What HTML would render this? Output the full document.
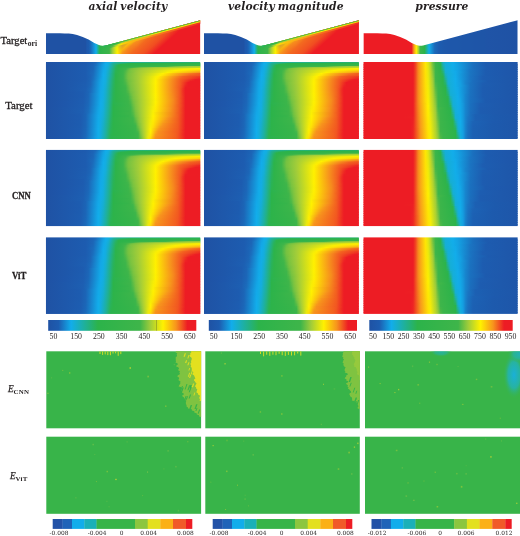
<!DOCTYPE html>
<html><head><meta charset="utf-8"><title>figure</title>
<style>
html,body{margin:0;padding:0;background:#fff}
body{width:520px;height:536px;position:relative;overflow:hidden;font-family:"Liberation Serif",serif;color:#231f20}
.t{position:absolute;white-space:nowrap;line-height:1}
.h{font-family:"DejaVu Serif","Liberation Serif",serif;font-style:italic;font-weight:bold;font-size:10.75px;letter-spacing:.1px;line-height:16px;word-spacing:-1px}
.r{font-size:10.4px;line-height:12px;-webkit-text-stroke:.3px #231f20;transform-origin:0 0}
.b{font-weight:bold;font-size:10px;-webkit-text-stroke:.3px #231f20}
.r i{font-weight:normal;font-size:11px}
.sb{font-size:7.6px;font-weight:bold;-webkit-text-stroke:0;position:relative;top:2px;left:.5px}
.sb2{font-size:6.6px;font-weight:bold;-webkit-text-stroke:0;position:relative;top:2.2px}
.e{-webkit-text-stroke:.25px #231f20}
.s2{font-weight:bold;letter-spacing:.25px}
.c{font-size:7.8px;line-height:12px}
.d{font-family:'DejaVu Serif',serif;font-size:5.9px;line-height:8px}
</style></head><body>
<svg width="520" height="536" viewBox="0 0 520 536" style="position:absolute;left:0;top:0"><defs><linearGradient id="fv0"><stop offset="0" stop-color="#1f52a4"/><stop offset="0.129" stop-color="#1e57aa"/><stop offset="0.2581" stop-color="#1d5baf"/><stop offset="0.3226" stop-color="#1b67b8"/><stop offset="0.3871" stop-color="#13a6e6"/><stop offset="0.4032" stop-color="#13ade5"/><stop offset="0.4194" stop-color="#15aeda"/><stop offset="0.4516" stop-color="#1eb09e"/><stop offset="0.4677" stop-color="#20b095"/><stop offset="0.5968" stop-color="#22b18a"/><stop offset="0.7258" stop-color="#23b180"/><stop offset="0.8548" stop-color="#25b175"/><stop offset="0.9839" stop-color="#27b26a"/><stop offset="1" stop-color="#27b269"/></linearGradient><linearGradient id="fv1"><stop offset="0" stop-color="#1f52a4"/><stop offset="0.129" stop-color="#1e57aa"/><stop offset="0.2581" stop-color="#1d5baf"/><stop offset="0.3065" stop-color="#1c64b6"/><stop offset="0.3226" stop-color="#1b6cbc"/><stop offset="0.3871" stop-color="#12adea"/><stop offset="0.4032" stop-color="#14addf"/><stop offset="0.4194" stop-color="#19afc0"/><stop offset="0.4355" stop-color="#1fb099"/><stop offset="0.5323" stop-color="#2bb350"/><stop offset="0.5484" stop-color="#2cb34a"/><stop offset="0.6774" stop-color="#2db34a"/><stop offset="0.8065" stop-color="#2eb34a"/><stop offset="0.9355" stop-color="#2fb34a"/><stop offset="1" stop-color="#30b34a"/></linearGradient><linearGradient id="fv2"><stop offset="0" stop-color="#1f52a4"/><stop offset="0.129" stop-color="#1e57aa"/><stop offset="0.2581" stop-color="#1d5baf"/><stop offset="0.3065" stop-color="#1c64b6"/><stop offset="0.3226" stop-color="#1b6ebd"/><stop offset="0.371" stop-color="#14a0e2"/><stop offset="0.3871" stop-color="#12ade9"/><stop offset="0.4032" stop-color="#14adde"/><stop offset="0.4355" stop-color="#20b092"/><stop offset="0.4677" stop-color="#29b25f"/><stop offset="0.4839" stop-color="#2cb34a"/><stop offset="0.6129" stop-color="#2eb34a"/><stop offset="0.7419" stop-color="#30b34a"/><stop offset="0.871" stop-color="#32b44a"/><stop offset="1" stop-color="#34b44a"/></linearGradient><linearGradient id="fv3"><stop offset="0" stop-color="#1f52a4"/><stop offset="0.129" stop-color="#1e57aa"/><stop offset="0.2581" stop-color="#1d5caf"/><stop offset="0.3065" stop-color="#1c65b7"/><stop offset="0.3226" stop-color="#1a70bf"/><stop offset="0.371" stop-color="#14a2e3"/><stop offset="0.3871" stop-color="#13ade7"/><stop offset="0.4032" stop-color="#14aedc"/><stop offset="0.4355" stop-color="#21b18c"/><stop offset="0.4677" stop-color="#2cb34a"/><stop offset="0.5968" stop-color="#30b34a"/><stop offset="0.7258" stop-color="#34b44a"/><stop offset="0.8548" stop-color="#37b44a"/><stop offset="0.9839" stop-color="#38b44a"/><stop offset="1" stop-color="#39b44a"/></linearGradient><linearGradient id="fv4"><stop offset="0" stop-color="#1f52a4"/><stop offset="0.129" stop-color="#1e57aa"/><stop offset="0.2581" stop-color="#1d5cb0"/><stop offset="0.3065" stop-color="#1c66b7"/><stop offset="0.371" stop-color="#13a3e4"/><stop offset="0.3871" stop-color="#13ade6"/><stop offset="0.4032" stop-color="#15aed6"/><stop offset="0.4516" stop-color="#28b263"/><stop offset="0.4677" stop-color="#2cb34a"/><stop offset="0.5968" stop-color="#37b44a"/><stop offset="0.7258" stop-color="#3cb54a"/><stop offset="0.7742" stop-color="#40b64a"/><stop offset="0.8387" stop-color="#77c241"/><stop offset="0.9194" stop-color="#9ecc3a"/><stop offset="1" stop-color="#a7cf36"/></linearGradient><linearGradient id="fv5"><stop offset="0" stop-color="#1f52a4"/><stop offset="0.129" stop-color="#1e57aa"/><stop offset="0.2581" stop-color="#1d5cb0"/><stop offset="0.3065" stop-color="#1c66b7"/><stop offset="0.371" stop-color="#13a5e5"/><stop offset="0.3871" stop-color="#13ade5"/><stop offset="0.4032" stop-color="#16aed3"/><stop offset="0.4516" stop-color="#29b25e"/><stop offset="0.4677" stop-color="#2db34a"/><stop offset="0.5484" stop-color="#3cb54a"/><stop offset="0.5645" stop-color="#44b649"/><stop offset="0.6129" stop-color="#72c141"/><stop offset="0.7097" stop-color="#a0cc3a"/><stop offset="0.8387" stop-color="#aed231"/><stop offset="0.9677" stop-color="#bdd729"/><stop offset="1" stop-color="#c0d926"/></linearGradient><linearGradient id="fv6"><stop offset="0" stop-color="#1f52a4"/><stop offset="0.129" stop-color="#1e57aa"/><stop offset="0.2581" stop-color="#1d5cb0"/><stop offset="0.3065" stop-color="#1c66b7"/><stop offset="0.371" stop-color="#13a6e6"/><stop offset="0.3871" stop-color="#13ade5"/><stop offset="0.4032" stop-color="#16aed0"/><stop offset="0.4516" stop-color="#2ab259"/><stop offset="0.4677" stop-color="#2fb34a"/><stop offset="0.5161" stop-color="#3cb54a"/><stop offset="0.5323" stop-color="#4eb947"/><stop offset="0.5484" stop-color="#68bf43"/><stop offset="0.5645" stop-color="#7ac340"/><stop offset="0.629" stop-color="#9ecb3a"/><stop offset="0.7581" stop-color="#c2d926"/><stop offset="0.8871" stop-color="#e4e710"/><stop offset="0.9839" stop-color="#fef100"/><stop offset="1" stop-color="#fff000"/></linearGradient><linearGradient id="fv7"><stop offset="0" stop-color="#1f52a4"/><stop offset="0.129" stop-color="#1e57aa"/><stop offset="0.2581" stop-color="#1d5cb0"/><stop offset="0.3065" stop-color="#1c67b8"/><stop offset="0.371" stop-color="#13a7e7"/><stop offset="0.3871" stop-color="#13ade4"/><stop offset="0.4032" stop-color="#17aecd"/><stop offset="0.4516" stop-color="#2ab357"/><stop offset="0.4677" stop-color="#2fb34a"/><stop offset="0.5161" stop-color="#40b54a"/><stop offset="0.5484" stop-color="#76c241"/><stop offset="0.629" stop-color="#a4cd38"/><stop offset="0.7581" stop-color="#cfde1d"/><stop offset="0.8871" stop-color="#faef03"/><stop offset="1" stop-color="#fee504"/></linearGradient><linearGradient id="fv8"><stop offset="0" stop-color="#1f52a4"/><stop offset="0.129" stop-color="#1e57aa"/><stop offset="0.2581" stop-color="#1d5cb0"/><stop offset="0.3065" stop-color="#1b68b9"/><stop offset="0.371" stop-color="#13a8e8"/><stop offset="0.3871" stop-color="#13ade3"/><stop offset="0.4032" stop-color="#17aeca"/><stop offset="0.4516" stop-color="#2ab354"/><stop offset="0.4677" stop-color="#30b34a"/><stop offset="0.5" stop-color="#3bb54a"/><stop offset="0.5161" stop-color="#4bb848"/><stop offset="0.5323" stop-color="#69bf43"/><stop offset="0.5484" stop-color="#7cc440"/><stop offset="0.6129" stop-color="#a4cd38"/><stop offset="0.7419" stop-color="#d9e217"/><stop offset="0.8387" stop-color="#fff000"/><stop offset="0.9677" stop-color="#fcd309"/><stop offset="1" stop-color="#fccc0b"/></linearGradient><linearGradient id="fv9"><stop offset="0" stop-color="#1f52a4"/><stop offset="0.129" stop-color="#1e57aa"/><stop offset="0.2581" stop-color="#1d5cb0"/><stop offset="0.3065" stop-color="#1b6aba"/><stop offset="0.371" stop-color="#12aae9"/><stop offset="0.3871" stop-color="#13ade2"/><stop offset="0.4032" stop-color="#18aec6"/><stop offset="0.4516" stop-color="#2bb350"/><stop offset="0.4677" stop-color="#31b44a"/><stop offset="0.5" stop-color="#3cb54a"/><stop offset="0.5161" stop-color="#52ba47"/><stop offset="0.5323" stop-color="#70c142"/><stop offset="0.5968" stop-color="#9fcc3a"/><stop offset="0.7258" stop-color="#dee414"/><stop offset="0.7903" stop-color="#fdf001"/><stop offset="0.9194" stop-color="#fab712"/><stop offset="1" stop-color="#f7931d"/></linearGradient><linearGradient id="fv10"><stop offset="0" stop-color="#1f52a4"/><stop offset="0.129" stop-color="#1e57aa"/><stop offset="0.2581" stop-color="#1d5cb0"/><stop offset="0.3065" stop-color="#1b6bbb"/><stop offset="0.371" stop-color="#12abea"/><stop offset="0.3871" stop-color="#14ade1"/><stop offset="0.4032" stop-color="#18aec3"/><stop offset="0.4516" stop-color="#2bb34d"/><stop offset="0.5" stop-color="#3db54a"/><stop offset="0.5161" stop-color="#55bb46"/><stop offset="0.5323" stop-color="#75c241"/><stop offset="0.5968" stop-color="#a0cc3a"/><stop offset="0.7258" stop-color="#ecea0c"/><stop offset="0.7581" stop-color="#fff100"/><stop offset="0.8871" stop-color="#f7921d"/><stop offset="1" stop-color="#f25a20"/></linearGradient><linearGradient id="fv11"><stop offset="0" stop-color="#1f52a4"/><stop offset="0.129" stop-color="#1e57aa"/><stop offset="0.2581" stop-color="#1d5cb0"/><stop offset="0.2903" stop-color="#1c64b6"/><stop offset="0.3065" stop-color="#1b6cbc"/><stop offset="0.371" stop-color="#12adeb"/><stop offset="0.3871" stop-color="#14ade0"/><stop offset="0.4032" stop-color="#19afc0"/><stop offset="0.4516" stop-color="#2cb34a"/><stop offset="0.5" stop-color="#3db54a"/><stop offset="0.5323" stop-color="#76c241"/><stop offset="0.5968" stop-color="#a1cd39"/><stop offset="0.7258" stop-color="#f7ee05"/><stop offset="0.7419" stop-color="#ffee01"/><stop offset="0.8548" stop-color="#f7941d"/><stop offset="0.9355" stop-color="#f25c20"/><stop offset="1" stop-color="#f14f21"/></linearGradient><linearGradient id="fv12"><stop offset="0" stop-color="#1f52a4"/><stop offset="0.129" stop-color="#1e57aa"/><stop offset="0.2581" stop-color="#1d5cb0"/><stop offset="0.2903" stop-color="#1c64b6"/><stop offset="0.3065" stop-color="#1b6ebd"/><stop offset="0.371" stop-color="#12adea"/><stop offset="0.3871" stop-color="#14addf"/><stop offset="0.4032" stop-color="#19afbd"/><stop offset="0.4516" stop-color="#2cb34a"/><stop offset="0.5" stop-color="#3db54a"/><stop offset="0.5323" stop-color="#76c241"/><stop offset="0.5968" stop-color="#a2cd39"/><stop offset="0.7097" stop-color="#f6ed06"/><stop offset="0.7258" stop-color="#ffee01"/><stop offset="0.8387" stop-color="#f68d1d"/><stop offset="0.8871" stop-color="#f36120"/><stop offset="1" stop-color="#ef3623"/></linearGradient><linearGradient id="fv13"><stop offset="0" stop-color="#1f52a4"/><stop offset="0.129" stop-color="#1e57aa"/><stop offset="0.2581" stop-color="#1d5cb0"/><stop offset="0.2903" stop-color="#1c65b6"/><stop offset="0.3065" stop-color="#1a6fbe"/><stop offset="0.3548" stop-color="#14a0e2"/><stop offset="0.371" stop-color="#12ade9"/><stop offset="0.3871" stop-color="#14adde"/><stop offset="0.4355" stop-color="#27b26b"/><stop offset="0.4516" stop-color="#2db34a"/><stop offset="0.5" stop-color="#3db54a"/><stop offset="0.5323" stop-color="#76c241"/><stop offset="0.5968" stop-color="#a2cd39"/><stop offset="0.7097" stop-color="#fbf002"/><stop offset="0.7258" stop-color="#fee703"/><stop offset="0.8226" stop-color="#f68d1d"/><stop offset="0.871" stop-color="#f36120"/><stop offset="1" stop-color="#ed2024"/></linearGradient><linearGradient id="fv14"><stop offset="0" stop-color="#1f52a4"/><stop offset="0.129" stop-color="#1e57aa"/><stop offset="0.2581" stop-color="#1d5cb0"/><stop offset="0.2903" stop-color="#1c65b6"/><stop offset="0.3065" stop-color="#1a70bf"/><stop offset="0.3548" stop-color="#14a2e3"/><stop offset="0.371" stop-color="#13ade8"/><stop offset="0.3871" stop-color="#14adde"/><stop offset="0.4355" stop-color="#27b268"/><stop offset="0.4516" stop-color="#2db34a"/><stop offset="0.5" stop-color="#3db54a"/><stop offset="0.5161" stop-color="#54ba46"/><stop offset="0.5323" stop-color="#73c141"/><stop offset="0.5968" stop-color="#a2cd39"/><stop offset="0.7097" stop-color="#fdf001"/><stop offset="0.8226" stop-color="#f6881e"/><stop offset="0.871" stop-color="#f25c20"/><stop offset="0.9677" stop-color="#ed1c24"/><stop offset="1" stop-color="#ed1c24"/></linearGradient><linearGradient id="fv15"><stop offset="0" stop-color="#1f52a4"/><stop offset="0.129" stop-color="#1e57aa"/><stop offset="0.2581" stop-color="#1d5db0"/><stop offset="0.2903" stop-color="#1c65b7"/><stop offset="0.3548" stop-color="#13a4e4"/><stop offset="0.371" stop-color="#13ade7"/><stop offset="0.3871" stop-color="#14aedd"/><stop offset="0.4355" stop-color="#27b266"/><stop offset="0.4516" stop-color="#2db34a"/><stop offset="0.5" stop-color="#3cb54a"/><stop offset="0.5161" stop-color="#50b947"/><stop offset="0.5323" stop-color="#6fc042"/><stop offset="0.5968" stop-color="#a2cd39"/><stop offset="0.7097" stop-color="#fef100"/><stop offset="0.8065" stop-color="#f7951d"/><stop offset="0.9355" stop-color="#ed1d24"/><stop offset="1" stop-color="#ed1c24"/></linearGradient><linearGradient id="fv16"><stop offset="0" stop-color="#1f52a4"/><stop offset="0.129" stop-color="#1e57aa"/><stop offset="0.2581" stop-color="#1d5db1"/><stop offset="0.2903" stop-color="#1c66b7"/><stop offset="0.3548" stop-color="#13a5e5"/><stop offset="0.371" stop-color="#13ade6"/><stop offset="0.3871" stop-color="#15aedb"/><stop offset="0.4355" stop-color="#28b265"/><stop offset="0.4516" stop-color="#2db34a"/><stop offset="0.5" stop-color="#3bb54a"/><stop offset="0.5161" stop-color="#4cb848"/><stop offset="0.5323" stop-color="#6bc043"/><stop offset="0.5484" stop-color="#7ec440"/><stop offset="0.5968" stop-color="#a2cd39"/><stop offset="0.7097" stop-color="#fff100"/><stop offset="0.8065" stop-color="#f7941d"/><stop offset="0.871" stop-color="#f25820"/><stop offset="0.9194" stop-color="#ed1c24"/><stop offset="1" stop-color="#ed1c24"/></linearGradient><linearGradient id="fv17"><stop offset="0" stop-color="#1f52a4"/><stop offset="0.129" stop-color="#1e57aa"/><stop offset="0.2581" stop-color="#1d5eb1"/><stop offset="0.2903" stop-color="#1c66b7"/><stop offset="0.3548" stop-color="#13a6e6"/><stop offset="0.371" stop-color="#13ade6"/><stop offset="0.3871" stop-color="#15aed8"/><stop offset="0.4355" stop-color="#28b263"/><stop offset="0.4516" stop-color="#2eb34a"/><stop offset="0.5" stop-color="#3bb54a"/><stop offset="0.5161" stop-color="#47b749"/><stop offset="0.5323" stop-color="#67bf43"/><stop offset="0.5484" stop-color="#7cc440"/><stop offset="0.5968" stop-color="#a1cc39"/><stop offset="0.7097" stop-color="#fff100"/><stop offset="0.8065" stop-color="#f7931d"/><stop offset="0.871" stop-color="#f25721"/><stop offset="0.9032" stop-color="#ee2a23"/><stop offset="0.9194" stop-color="#ed1c24"/><stop offset="1" stop-color="#ed1c24"/></linearGradient><linearGradient id="fv18"><stop offset="0" stop-color="#1f52a4"/><stop offset="0.129" stop-color="#1e57aa"/><stop offset="0.2581" stop-color="#1d5eb1"/><stop offset="0.2903" stop-color="#1c67b8"/><stop offset="0.3548" stop-color="#13a6e6"/><stop offset="0.371" stop-color="#13ade5"/><stop offset="0.3871" stop-color="#15aed6"/><stop offset="0.4355" stop-color="#28b261"/><stop offset="0.4516" stop-color="#2eb34a"/><stop offset="0.5" stop-color="#3ab54a"/><stop offset="0.5161" stop-color="#42b649"/><stop offset="0.5323" stop-color="#62bd44"/><stop offset="0.5484" stop-color="#7bc340"/><stop offset="0.5968" stop-color="#a0cc3a"/><stop offset="0.7097" stop-color="#fff000"/><stop offset="0.8065" stop-color="#f7931d"/><stop offset="0.871" stop-color="#f25521"/><stop offset="0.9032" stop-color="#ee2424"/><stop offset="0.9194" stop-color="#ed1c24"/><stop offset="1" stop-color="#ed1c24"/></linearGradient><linearGradient id="fv19"><stop offset="0" stop-color="#1f52a4"/><stop offset="0.129" stop-color="#1e57aa"/><stop offset="0.2581" stop-color="#1d5eb2"/><stop offset="0.2903" stop-color="#1b69b9"/><stop offset="0.3548" stop-color="#13a7e7"/><stop offset="0.371" stop-color="#13ade5"/><stop offset="0.3871" stop-color="#16aed3"/><stop offset="0.4355" stop-color="#29b25f"/><stop offset="0.4516" stop-color="#2eb34a"/><stop offset="0.5161" stop-color="#3eb54a"/><stop offset="0.5484" stop-color="#79c340"/><stop offset="0.5968" stop-color="#9fcc3a"/><stop offset="0.7097" stop-color="#fff000"/><stop offset="0.8065" stop-color="#f7931d"/><stop offset="0.871" stop-color="#f25321"/><stop offset="0.9032" stop-color="#ed1d24"/><stop offset="1" stop-color="#ed1c24"/></linearGradient><linearGradient id="fv20"><stop offset="0" stop-color="#1f52a4"/><stop offset="0.129" stop-color="#1e57aa"/><stop offset="0.2581" stop-color="#1d5fb2"/><stop offset="0.2903" stop-color="#1b6bbb"/><stop offset="0.3548" stop-color="#13a8e7"/><stop offset="0.371" stop-color="#13ade4"/><stop offset="0.3871" stop-color="#16aed0"/><stop offset="0.4355" stop-color="#29b25d"/><stop offset="0.4516" stop-color="#2eb34a"/><stop offset="0.5161" stop-color="#3db54a"/><stop offset="0.5484" stop-color="#77c241"/><stop offset="0.5968" stop-color="#9ecc3a"/><stop offset="0.7097" stop-color="#fff000"/><stop offset="0.8065" stop-color="#f7931d"/><stop offset="0.8548" stop-color="#f36520"/><stop offset="0.871" stop-color="#f15021"/><stop offset="0.8871" stop-color="#ef3223"/><stop offset="0.9032" stop-color="#ed1c24"/><stop offset="1" stop-color="#ed1c24"/></linearGradient><linearGradient id="fv21"><stop offset="0" stop-color="#1f52a4"/><stop offset="0.129" stop-color="#1e57aa"/><stop offset="0.2581" stop-color="#1d5fb2"/><stop offset="0.2903" stop-color="#1b6cbc"/><stop offset="0.3548" stop-color="#13a8e8"/><stop offset="0.371" stop-color="#13ade3"/><stop offset="0.3871" stop-color="#17aece"/><stop offset="0.4355" stop-color="#29b25c"/><stop offset="0.4516" stop-color="#2eb34a"/><stop offset="0.5161" stop-color="#3db54a"/><stop offset="0.5323" stop-color="#54ba46"/><stop offset="0.5484" stop-color="#74c241"/><stop offset="0.5968" stop-color="#9dcb3a"/><stop offset="0.7097" stop-color="#fff000"/><stop offset="0.8065" stop-color="#f7931d"/><stop offset="0.8548" stop-color="#f36420"/><stop offset="0.871" stop-color="#f14f21"/><stop offset="0.8871" stop-color="#ef3023"/><stop offset="0.9032" stop-color="#ed1c24"/><stop offset="1" stop-color="#ed1c24"/></linearGradient><linearGradient id="fv22"><stop offset="0" stop-color="#1f52a4"/><stop offset="0.129" stop-color="#1e57aa"/><stop offset="0.2419" stop-color="#1d5cb0"/><stop offset="0.2742" stop-color="#1c64b6"/><stop offset="0.2903" stop-color="#1b6dbd"/><stop offset="0.3548" stop-color="#13a9e8"/><stop offset="0.371" stop-color="#13ade3"/><stop offset="0.3871" stop-color="#17aecd"/><stop offset="0.4355" stop-color="#29b25a"/><stop offset="0.4516" stop-color="#2eb34a"/><stop offset="0.5161" stop-color="#3cb54a"/><stop offset="0.5323" stop-color="#4eb947"/><stop offset="0.5484" stop-color="#6fc042"/><stop offset="0.5968" stop-color="#9ccb3b"/><stop offset="0.7097" stop-color="#fff000"/><stop offset="0.8065" stop-color="#f7951d"/><stop offset="0.8548" stop-color="#f36520"/><stop offset="0.871" stop-color="#f14f21"/><stop offset="0.8871" stop-color="#ef3123"/><stop offset="0.9032" stop-color="#ed1c24"/><stop offset="1" stop-color="#ed1c24"/></linearGradient><linearGradient id="fv23"><stop offset="0" stop-color="#1f52a4"/><stop offset="0.129" stop-color="#1e57aa"/><stop offset="0.2419" stop-color="#1d5cb0"/><stop offset="0.2742" stop-color="#1c65b6"/><stop offset="0.3548" stop-color="#13a9e8"/><stop offset="0.371" stop-color="#13ade3"/><stop offset="0.3871" stop-color="#17aecb"/><stop offset="0.4355" stop-color="#2ab259"/><stop offset="0.4516" stop-color="#2eb34a"/><stop offset="0.5161" stop-color="#3bb54a"/><stop offset="0.5323" stop-color="#48b748"/><stop offset="0.5484" stop-color="#69bf43"/><stop offset="0.5645" stop-color="#7fc43f"/><stop offset="0.5968" stop-color="#9bcb3b"/><stop offset="0.7097" stop-color="#fff100"/><stop offset="0.8226" stop-color="#f6861e"/><stop offset="0.8548" stop-color="#f36520"/><stop offset="0.871" stop-color="#f14f21"/><stop offset="0.8871" stop-color="#ef3223"/><stop offset="0.9032" stop-color="#ed1c24"/><stop offset="1" stop-color="#ed1c24"/></linearGradient><linearGradient id="fv24"><stop offset="0" stop-color="#1f52a4"/><stop offset="0.129" stop-color="#1e57aa"/><stop offset="0.2419" stop-color="#1d5cb0"/><stop offset="0.2742" stop-color="#1c65b6"/><stop offset="0.3548" stop-color="#12aae9"/><stop offset="0.371" stop-color="#13ade2"/><stop offset="0.3871" stop-color="#17aeca"/><stop offset="0.4355" stop-color="#2ab258"/><stop offset="0.4516" stop-color="#2eb34a"/><stop offset="0.5161" stop-color="#3ab54a"/><stop offset="0.5323" stop-color="#42b649"/><stop offset="0.5484" stop-color="#63be44"/><stop offset="0.5645" stop-color="#7dc440"/><stop offset="0.6129" stop-color="#a9cf35"/><stop offset="0.7097" stop-color="#fff100"/><stop offset="0.8226" stop-color="#f6871e"/><stop offset="0.8548" stop-color="#f36520"/><stop offset="0.871" stop-color="#f15021"/><stop offset="0.8871" stop-color="#ef3323"/><stop offset="0.9032" stop-color="#ed1c24"/><stop offset="1" stop-color="#ed1c24"/></linearGradient><linearGradient id="fv25"><stop offset="0" stop-color="#1f52a4"/><stop offset="0.129" stop-color="#1e57aa"/><stop offset="0.2419" stop-color="#1d5cb0"/><stop offset="0.2742" stop-color="#1c65b7"/><stop offset="0.3548" stop-color="#12aae9"/><stop offset="0.371" stop-color="#14ade2"/><stop offset="0.3871" stop-color="#18aec8"/><stop offset="0.4194" stop-color="#24b17f"/><stop offset="0.4355" stop-color="#2ab356"/><stop offset="0.4516" stop-color="#2eb34a"/><stop offset="0.5323" stop-color="#3eb54a"/><stop offset="0.5645" stop-color="#7ac340"/><stop offset="0.6129" stop-color="#a8cf35"/><stop offset="0.7097" stop-color="#fef101"/><stop offset="0.8226" stop-color="#f6891e"/><stop offset="0.871" stop-color="#f15021"/><stop offset="0.9032" stop-color="#ed1c24"/><stop offset="1" stop-color="#ed1c24"/></linearGradient><linearGradient id="fv26"><stop offset="0" stop-color="#1f52a4"/><stop offset="0.129" stop-color="#1e57aa"/><stop offset="0.2419" stop-color="#1d5db0"/><stop offset="0.2742" stop-color="#1c66b7"/><stop offset="0.3548" stop-color="#12abe9"/><stop offset="0.371" stop-color="#14ade1"/><stop offset="0.3871" stop-color="#18aec7"/><stop offset="0.4355" stop-color="#2ab355"/><stop offset="0.4516" stop-color="#2eb34a"/><stop offset="0.5323" stop-color="#3db54a"/><stop offset="0.5645" stop-color="#78c341"/><stop offset="0.6129" stop-color="#a7cf36"/><stop offset="0.7097" stop-color="#fef001"/><stop offset="0.8226" stop-color="#f68a1e"/><stop offset="0.8548" stop-color="#f36620"/><stop offset="0.9032" stop-color="#ed1c24"/><stop offset="1" stop-color="#ed1c24"/></linearGradient><linearGradient id="fv27"><stop offset="0" stop-color="#1f52a4"/><stop offset="0.129" stop-color="#1e57aa"/><stop offset="0.2419" stop-color="#1d5db1"/><stop offset="0.2742" stop-color="#1c66b7"/><stop offset="0.3548" stop-color="#12abea"/><stop offset="0.371" stop-color="#14ade1"/><stop offset="0.3871" stop-color="#18aec5"/><stop offset="0.4194" stop-color="#24b17c"/><stop offset="0.4355" stop-color="#2ab353"/><stop offset="0.4516" stop-color="#2eb34a"/><stop offset="0.5323" stop-color="#3cb54a"/><stop offset="0.5484" stop-color="#52ba47"/><stop offset="0.5645" stop-color="#74c241"/><stop offset="0.6129" stop-color="#a6ce36"/><stop offset="0.7097" stop-color="#fdf001"/><stop offset="0.8226" stop-color="#f68c1d"/><stop offset="0.871" stop-color="#f15021"/><stop offset="0.9032" stop-color="#ed1c24"/><stop offset="1" stop-color="#ed1c24"/></linearGradient><linearGradient id="fv28"><stop offset="0" stop-color="#1f52a4"/><stop offset="0.129" stop-color="#1e57ab"/><stop offset="0.2419" stop-color="#1d5db1"/><stop offset="0.2742" stop-color="#1c66b8"/><stop offset="0.3548" stop-color="#12acea"/><stop offset="0.371" stop-color="#14ade0"/><stop offset="0.3871" stop-color="#18aec4"/><stop offset="0.4194" stop-color="#24b17a"/><stop offset="0.4355" stop-color="#2bb351"/><stop offset="0.4516" stop-color="#2eb34a"/><stop offset="0.5323" stop-color="#3bb54a"/><stop offset="0.5484" stop-color="#4db848"/><stop offset="0.5645" stop-color="#70c142"/><stop offset="0.6129" stop-color="#a6ce36"/><stop offset="0.7097" stop-color="#fef101"/><stop offset="0.8226" stop-color="#f68b1e"/><stop offset="0.871" stop-color="#f15021"/><stop offset="0.9032" stop-color="#ed1c24"/><stop offset="1" stop-color="#ed1c24"/></linearGradient><linearGradient id="fv29"><stop offset="0" stop-color="#1f52a4"/><stop offset="0.129" stop-color="#1e57ab"/><stop offset="0.2419" stop-color="#1d5db1"/><stop offset="0.2742" stop-color="#1c67b8"/><stop offset="0.3548" stop-color="#12adeb"/><stop offset="0.371" stop-color="#14addf"/><stop offset="0.4032" stop-color="#1eb0a0"/><stop offset="0.4355" stop-color="#2bb34f"/><stop offset="0.5323" stop-color="#3bb54a"/><stop offset="0.5484" stop-color="#49b748"/><stop offset="0.5645" stop-color="#6cc042"/><stop offset="0.5806" stop-color="#83c53f"/><stop offset="0.6129" stop-color="#a5ce37"/><stop offset="0.7097" stop-color="#fff000"/><stop offset="0.8226" stop-color="#f6891e"/><stop offset="0.8548" stop-color="#f36520"/><stop offset="0.9032" stop-color="#ed1c24"/><stop offset="1" stop-color="#ed1c24"/></linearGradient><linearGradient id="fv30"><stop offset="0" stop-color="#1f52a4"/><stop offset="0.129" stop-color="#1e57ab"/><stop offset="0.2419" stop-color="#1d5eb1"/><stop offset="0.2742" stop-color="#1b68b9"/><stop offset="0.3548" stop-color="#12adea"/><stop offset="0.371" stop-color="#14addf"/><stop offset="0.4032" stop-color="#1eb09e"/><stop offset="0.4355" stop-color="#2bb34d"/><stop offset="0.5323" stop-color="#3ab54a"/><stop offset="0.5484" stop-color="#44b649"/><stop offset="0.5645" stop-color="#68bf43"/><stop offset="0.5806" stop-color="#81c53f"/><stop offset="0.6129" stop-color="#a5ce37"/><stop offset="0.7097" stop-color="#ffef01"/><stop offset="0.8226" stop-color="#f6881e"/><stop offset="0.871" stop-color="#f14f21"/><stop offset="0.9032" stop-color="#ed1c24"/><stop offset="1" stop-color="#ed1c24"/></linearGradient><linearGradient id="fv31"><stop offset="0" stop-color="#1f52a4"/><stop offset="0.129" stop-color="#1e57ab"/><stop offset="0.2419" stop-color="#1d5eb1"/><stop offset="0.2742" stop-color="#1b69b9"/><stop offset="0.3387" stop-color="#14a1e3"/><stop offset="0.3548" stop-color="#12ade9"/><stop offset="0.371" stop-color="#14adde"/><stop offset="0.4032" stop-color="#1fb09d"/><stop offset="0.4355" stop-color="#2cb34b"/><stop offset="0.5323" stop-color="#3ab54a"/><stop offset="0.5484" stop-color="#40b54a"/><stop offset="0.5645" stop-color="#64be44"/><stop offset="0.5806" stop-color="#7fc43f"/><stop offset="0.6129" stop-color="#a4ce37"/><stop offset="0.6935" stop-color="#f4ed07"/><stop offset="0.7097" stop-color="#ffed01"/><stop offset="0.8226" stop-color="#f6861e"/><stop offset="0.871" stop-color="#f14e21"/><stop offset="0.9032" stop-color="#ed1c24"/><stop offset="1" stop-color="#ed1c24"/></linearGradient><linearGradient id="fv32"><stop offset="0" stop-color="#1f52a4"/><stop offset="0.129" stop-color="#1e58ab"/><stop offset="0.2419" stop-color="#1d5eb2"/><stop offset="0.2742" stop-color="#1b6aba"/><stop offset="0.3387" stop-color="#13a3e3"/><stop offset="0.3548" stop-color="#12ade8"/><stop offset="0.371" stop-color="#14aedd"/><stop offset="0.4032" stop-color="#1fb09b"/><stop offset="0.4355" stop-color="#2cb34a"/><stop offset="0.5484" stop-color="#3eb54a"/><stop offset="0.5806" stop-color="#7ec440"/><stop offset="0.6129" stop-color="#a4cd38"/><stop offset="0.6935" stop-color="#f5ed06"/><stop offset="0.7097" stop-color="#ffeb02"/><stop offset="0.8065" stop-color="#f7961d"/><stop offset="0.8548" stop-color="#f36320"/><stop offset="0.9032" stop-color="#ed1c24"/><stop offset="1" stop-color="#ed1c24"/></linearGradient><linearGradient id="fv33"><stop offset="0" stop-color="#1f52a4"/><stop offset="0.129" stop-color="#1e58ab"/><stop offset="0.2419" stop-color="#1d5fb2"/><stop offset="0.2742" stop-color="#1b6bbb"/><stop offset="0.3387" stop-color="#13a4e4"/><stop offset="0.3548" stop-color="#13ade7"/><stop offset="0.371" stop-color="#14aedc"/><stop offset="0.4032" stop-color="#1fb099"/><stop offset="0.4355" stop-color="#2cb34a"/><stop offset="0.5484" stop-color="#3db54a"/><stop offset="0.5806" stop-color="#7cc340"/><stop offset="0.6129" stop-color="#a3cd38"/><stop offset="0.6935" stop-color="#f7ee05"/><stop offset="0.7097" stop-color="#feea02"/><stop offset="0.8065" stop-color="#f7941d"/><stop offset="0.8548" stop-color="#f36220"/><stop offset="0.9032" stop-color="#ed1c24"/><stop offset="1" stop-color="#ed1c24"/></linearGradient><linearGradient id="fv34"><stop offset="0" stop-color="#1f52a4"/><stop offset="0.129" stop-color="#1e58ab"/><stop offset="0.2419" stop-color="#1d5fb2"/><stop offset="0.2742" stop-color="#1b6cbb"/><stop offset="0.3387" stop-color="#13a5e5"/><stop offset="0.3548" stop-color="#13ade7"/><stop offset="0.371" stop-color="#15aeda"/><stop offset="0.4032" stop-color="#1fb098"/><stop offset="0.4355" stop-color="#2cb34a"/><stop offset="0.5323" stop-color="#38b44a"/><stop offset="0.5484" stop-color="#3db54a"/><stop offset="0.5645" stop-color="#57bb46"/><stop offset="0.5806" stop-color="#7ac340"/><stop offset="0.6129" stop-color="#a2cd39"/><stop offset="0.6935" stop-color="#f9ef04"/><stop offset="0.7097" stop-color="#fee803"/><stop offset="0.8065" stop-color="#f7921d"/><stop offset="0.8548" stop-color="#f36120"/><stop offset="0.9032" stop-color="#ed1c24"/><stop offset="1" stop-color="#ed1c24"/></linearGradient><linearGradient id="fv35"><stop offset="0" stop-color="#1f52a4"/><stop offset="0.129" stop-color="#1e58ab"/><stop offset="0.2419" stop-color="#1d5fb2"/><stop offset="0.2742" stop-color="#1b6dbc"/><stop offset="0.3387" stop-color="#13a6e6"/><stop offset="0.3548" stop-color="#13ade6"/><stop offset="0.371" stop-color="#15aed8"/><stop offset="0.4032" stop-color="#20b096"/><stop offset="0.4194" stop-color="#26b26d"/><stop offset="0.4355" stop-color="#2cb34a"/><stop offset="0.5484" stop-color="#3cb54a"/><stop offset="0.5645" stop-color="#52ba47"/><stop offset="0.5806" stop-color="#77c241"/><stop offset="0.6129" stop-color="#a1cd39"/><stop offset="0.6935" stop-color="#faef03"/><stop offset="0.8226" stop-color="#f5811e"/><stop offset="0.871" stop-color="#f14c21"/><stop offset="0.9032" stop-color="#ed1c24"/><stop offset="1" stop-color="#ed1c24"/></linearGradient><linearGradient id="fv36"><stop offset="0" stop-color="#1f52a4"/><stop offset="0.129" stop-color="#1e58ab"/><stop offset="0.2258" stop-color="#1d5cb0"/><stop offset="0.2581" stop-color="#1c64b6"/><stop offset="0.3387" stop-color="#13a7e7"/><stop offset="0.3548" stop-color="#13ade5"/><stop offset="0.371" stop-color="#15aed7"/><stop offset="0.4032" stop-color="#20b095"/><stop offset="0.4194" stop-color="#27b26b"/><stop offset="0.4355" stop-color="#2cb34a"/><stop offset="0.5484" stop-color="#3bb54a"/><stop offset="0.5645" stop-color="#4eb947"/><stop offset="0.5806" stop-color="#74c241"/><stop offset="0.6129" stop-color="#a1cc3a"/><stop offset="0.6935" stop-color="#fcf002"/><stop offset="0.8226" stop-color="#f57f1e"/><stop offset="0.8548" stop-color="#f36020"/><stop offset="0.9032" stop-color="#ed1c24"/><stop offset="1" stop-color="#ed1c24"/></linearGradient><linearGradient id="fv37"><stop offset="0" stop-color="#1f52a4"/><stop offset="0.129" stop-color="#1e58ab"/><stop offset="0.2258" stop-color="#1d5cb0"/><stop offset="0.2581" stop-color="#1c65b6"/><stop offset="0.3387" stop-color="#13a8e8"/><stop offset="0.3548" stop-color="#13ade4"/><stop offset="0.371" stop-color="#16aed5"/><stop offset="0.4032" stop-color="#20b093"/><stop offset="0.4194" stop-color="#27b268"/><stop offset="0.4355" stop-color="#2cb34a"/><stop offset="0.5323" stop-color="#36b44a"/><stop offset="0.5484" stop-color="#3bb54a"/><stop offset="0.5645" stop-color="#49b748"/><stop offset="0.5806" stop-color="#70c142"/><stop offset="0.6129" stop-color="#a0cc3a"/><stop offset="0.6935" stop-color="#fff100"/><stop offset="0.8065" stop-color="#f68d1d"/><stop offset="0.8548" stop-color="#f35f20"/><stop offset="0.9032" stop-color="#ed1c24"/><stop offset="1" stop-color="#ed1c24"/></linearGradient><linearGradient id="fv38"><stop offset="0" stop-color="#1f52a4"/><stop offset="0.129" stop-color="#1e58ab"/><stop offset="0.2258" stop-color="#1d5cb0"/><stop offset="0.2581" stop-color="#1c65b6"/><stop offset="0.3387" stop-color="#13a9e8"/><stop offset="0.3548" stop-color="#13ade4"/><stop offset="0.371" stop-color="#16aed3"/><stop offset="0.4032" stop-color="#21b091"/><stop offset="0.4194" stop-color="#27b266"/><stop offset="0.4355" stop-color="#2db34a"/><stop offset="0.5484" stop-color="#3ab54a"/><stop offset="0.5645" stop-color="#40b64a"/><stop offset="0.5806" stop-color="#69bf43"/><stop offset="0.6129" stop-color="#9ecb3a"/><stop offset="0.6935" stop-color="#fff000"/><stop offset="0.7903" stop-color="#f7951d"/><stop offset="0.8548" stop-color="#f35e20"/><stop offset="0.9032" stop-color="#ed1c24"/><stop offset="1" stop-color="#ed1c24"/></linearGradient><linearGradient id="fv39"><stop offset="0" stop-color="#1f52a4"/><stop offset="0.129" stop-color="#1e58ab"/><stop offset="0.2258" stop-color="#1d5cb0"/><stop offset="0.2581" stop-color="#1c65b7"/><stop offset="0.3387" stop-color="#12a9e8"/><stop offset="0.3548" stop-color="#13ade3"/><stop offset="0.371" stop-color="#16aed1"/><stop offset="0.4032" stop-color="#21b08e"/><stop offset="0.4194" stop-color="#28b264"/><stop offset="0.4355" stop-color="#2db34a"/><stop offset="0.5645" stop-color="#3db54a"/><stop offset="0.5968" stop-color="#83c53f"/><stop offset="0.6129" stop-color="#9ccb3b"/><stop offset="0.6774" stop-color="#eeeb0a"/><stop offset="0.6935" stop-color="#ffee01"/><stop offset="0.7903" stop-color="#f78f1d"/><stop offset="0.8548" stop-color="#f25d20"/><stop offset="0.9032" stop-color="#ed1c24"/><stop offset="1" stop-color="#ed1c24"/></linearGradient><linearGradient id="fv40"><stop offset="0" stop-color="#1f52a4"/><stop offset="0.129" stop-color="#1e58ab"/><stop offset="0.2258" stop-color="#1d5cb0"/><stop offset="0.2581" stop-color="#1c65b7"/><stop offset="0.3387" stop-color="#12aae9"/><stop offset="0.3548" stop-color="#13ade3"/><stop offset="0.371" stop-color="#17aecf"/><stop offset="0.4032" stop-color="#21b18c"/><stop offset="0.4194" stop-color="#28b263"/><stop offset="0.4355" stop-color="#2db34a"/><stop offset="0.5645" stop-color="#3cb54a"/><stop offset="0.5806" stop-color="#5abb45"/><stop offset="0.5968" stop-color="#7fc43f"/><stop offset="0.6129" stop-color="#99ca3b"/><stop offset="0.6774" stop-color="#f0eb09"/><stop offset="0.6935" stop-color="#ffec02"/><stop offset="0.7742" stop-color="#f7961c"/><stop offset="0.8548" stop-color="#f25c20"/><stop offset="0.9032" stop-color="#ed1c24"/><stop offset="1" stop-color="#ed1c24"/></linearGradient><linearGradient id="fv41"><stop offset="0" stop-color="#1f52a4"/><stop offset="0.129" stop-color="#1e58ab"/><stop offset="0.2258" stop-color="#1d5cb0"/><stop offset="0.2581" stop-color="#1c66b7"/><stop offset="0.3387" stop-color="#12abe9"/><stop offset="0.3548" stop-color="#13ade2"/><stop offset="0.371" stop-color="#17aecd"/><stop offset="0.4032" stop-color="#22b18a"/><stop offset="0.4194" stop-color="#28b261"/><stop offset="0.4355" stop-color="#2db34a"/><stop offset="0.5645" stop-color="#3bb54a"/><stop offset="0.5806" stop-color="#51b947"/><stop offset="0.5968" stop-color="#7cc340"/><stop offset="0.6129" stop-color="#97ca3c"/><stop offset="0.6774" stop-color="#f2ec08"/><stop offset="0.6935" stop-color="#fee902"/><stop offset="0.7581" stop-color="#f89f19"/><stop offset="0.8548" stop-color="#f25c20"/><stop offset="0.9032" stop-color="#ed1c24"/><stop offset="1" stop-color="#ed1c24"/></linearGradient><linearGradient id="fv42"><stop offset="0" stop-color="#1f52a4"/><stop offset="0.129" stop-color="#1e58ab"/><stop offset="0.2258" stop-color="#1d5cb0"/><stop offset="0.2581" stop-color="#1c66b7"/><stop offset="0.3387" stop-color="#12abea"/><stop offset="0.3548" stop-color="#14ade2"/><stop offset="0.371" stop-color="#17aecb"/><stop offset="0.4032" stop-color="#22b188"/><stop offset="0.4194" stop-color="#29b25f"/><stop offset="0.4355" stop-color="#2db34a"/><stop offset="0.5645" stop-color="#3ab54a"/><stop offset="0.5806" stop-color="#47b749"/><stop offset="0.5968" stop-color="#77c241"/><stop offset="0.629" stop-color="#add132"/><stop offset="0.6774" stop-color="#f4ed07"/><stop offset="0.6935" stop-color="#fee703"/><stop offset="0.7581" stop-color="#f7961c"/><stop offset="0.8548" stop-color="#f25b20"/><stop offset="0.9032" stop-color="#ed1c24"/><stop offset="1" stop-color="#ed1c24"/></linearGradient><linearGradient id="fv43"><stop offset="0" stop-color="#1f52a4"/><stop offset="0.129" stop-color="#1e58ab"/><stop offset="0.2258" stop-color="#1d5cb0"/><stop offset="0.2581" stop-color="#1c66b7"/><stop offset="0.3387" stop-color="#12acea"/><stop offset="0.3548" stop-color="#14ade1"/><stop offset="0.371" stop-color="#18aec9"/><stop offset="0.4032" stop-color="#22b186"/><stop offset="0.4194" stop-color="#29b25d"/><stop offset="0.4355" stop-color="#2db34a"/><stop offset="0.5645" stop-color="#39b44a"/><stop offset="0.5806" stop-color="#3eb54a"/><stop offset="0.5968" stop-color="#70c142"/><stop offset="0.6129" stop-color="#91c83c"/><stop offset="0.629" stop-color="#acd133"/><stop offset="0.6774" stop-color="#f6ed06"/><stop offset="0.6935" stop-color="#fee304"/><stop offset="0.7419" stop-color="#f8a219"/><stop offset="0.7581" stop-color="#f7911d"/><stop offset="0.8548" stop-color="#f25a20"/><stop offset="0.9032" stop-color="#ed1c24"/><stop offset="1" stop-color="#ed1c24"/></linearGradient><linearGradient id="fv44"><stop offset="0" stop-color="#1f52a4"/><stop offset="0.129" stop-color="#1e58ab"/><stop offset="0.2258" stop-color="#1d5db0"/><stop offset="0.2581" stop-color="#1c66b7"/><stop offset="0.3387" stop-color="#12acea"/><stop offset="0.3548" stop-color="#14ade0"/><stop offset="0.371" stop-color="#18aec7"/><stop offset="0.4032" stop-color="#23b184"/><stop offset="0.4194" stop-color="#29b25b"/><stop offset="0.4355" stop-color="#2db34a"/><stop offset="0.5645" stop-color="#39b44a"/><stop offset="0.5806" stop-color="#3db54a"/><stop offset="0.6129" stop-color="#8dc83d"/><stop offset="0.629" stop-color="#abd034"/><stop offset="0.6774" stop-color="#f8ee04"/><stop offset="0.6935" stop-color="#fddf06"/><stop offset="0.7419" stop-color="#f7971c"/><stop offset="0.8548" stop-color="#f25920"/><stop offset="0.9032" stop-color="#ed1c24"/><stop offset="1" stop-color="#ed1c24"/></linearGradient><linearGradient id="fv45"><stop offset="0" stop-color="#1f52a4"/><stop offset="0.129" stop-color="#1e58ab"/><stop offset="0.2258" stop-color="#1d5db1"/><stop offset="0.2581" stop-color="#1c67b8"/><stop offset="0.3387" stop-color="#12adeb"/><stop offset="0.3548" stop-color="#14ade0"/><stop offset="0.3871" stop-color="#1db0a6"/><stop offset="0.4194" stop-color="#2ab259"/><stop offset="0.4355" stop-color="#2db34a"/><stop offset="0.5645" stop-color="#38b44a"/><stop offset="0.5806" stop-color="#3cb54a"/><stop offset="0.5968" stop-color="#5dbc45"/><stop offset="0.6129" stop-color="#89c73e"/><stop offset="0.629" stop-color="#a9cf35"/><stop offset="0.6774" stop-color="#fbef03"/><stop offset="0.7258" stop-color="#f8a518"/><stop offset="0.7419" stop-color="#f7911d"/><stop offset="0.8548" stop-color="#f25820"/><stop offset="0.9032" stop-color="#ed1c24"/><stop offset="1" stop-color="#ed1c24"/></linearGradient><linearGradient id="fv46"><stop offset="0" stop-color="#1f52a4"/><stop offset="0.129" stop-color="#1e58ab"/><stop offset="0.2258" stop-color="#1d5db1"/><stop offset="0.2581" stop-color="#1b67b8"/><stop offset="0.3387" stop-color="#12adeb"/><stop offset="0.3548" stop-color="#14addf"/><stop offset="0.3871" stop-color="#1db0a4"/><stop offset="0.4194" stop-color="#2ab357"/><stop offset="0.4355" stop-color="#2db34a"/><stop offset="0.5645" stop-color="#37b44a"/><stop offset="0.5806" stop-color="#3bb54a"/><stop offset="0.5968" stop-color="#51ba47"/><stop offset="0.6129" stop-color="#85c63e"/><stop offset="0.629" stop-color="#a7cf36"/><stop offset="0.6774" stop-color="#fef001"/><stop offset="0.7258" stop-color="#f7981c"/><stop offset="0.8548" stop-color="#f25721"/><stop offset="0.8871" stop-color="#ee2d23"/><stop offset="0.9032" stop-color="#ed1c24"/><stop offset="1" stop-color="#ed1c24"/></linearGradient><linearGradient id="fv47"><stop offset="0" stop-color="#1f52a4"/><stop offset="0.129" stop-color="#1e58ab"/><stop offset="0.2258" stop-color="#1d5db1"/><stop offset="0.2581" stop-color="#1b68b9"/><stop offset="0.3387" stop-color="#12adea"/><stop offset="0.3548" stop-color="#14adde"/><stop offset="0.3871" stop-color="#1eb0a3"/><stop offset="0.4194" stop-color="#2ab355"/><stop offset="0.4355" stop-color="#2db34a"/><stop offset="0.5645" stop-color="#36b44a"/><stop offset="0.5806" stop-color="#3ab54a"/><stop offset="0.5968" stop-color="#46b749"/><stop offset="0.6129" stop-color="#80c53f"/><stop offset="0.629" stop-color="#a5ce37"/><stop offset="0.6774" stop-color="#ffef01"/><stop offset="0.7097" stop-color="#f9ac15"/><stop offset="0.7258" stop-color="#f7921d"/><stop offset="0.8548" stop-color="#f25621"/><stop offset="0.9032" stop-color="#ed1c24"/><stop offset="1" stop-color="#ed1c24"/></linearGradient><linearGradient id="fv48"><stop offset="0" stop-color="#1f52a4"/><stop offset="0.129" stop-color="#1e58ab"/><stop offset="0.2258" stop-color="#1d5db1"/><stop offset="0.2581" stop-color="#1b68b9"/><stop offset="0.3387" stop-color="#12adea"/><stop offset="0.3548" stop-color="#14adde"/><stop offset="0.3871" stop-color="#1eb0a1"/><stop offset="0.4194" stop-color="#2bb353"/><stop offset="0.4355" stop-color="#2db34a"/><stop offset="0.5645" stop-color="#36b44a"/><stop offset="0.5968" stop-color="#3eb54a"/><stop offset="0.6129" stop-color="#7cc440"/><stop offset="0.629" stop-color="#a3cd38"/><stop offset="0.6613" stop-color="#e4e710"/><stop offset="0.6774" stop-color="#feeb02"/><stop offset="0.7097" stop-color="#f8a318"/><stop offset="0.7258" stop-color="#f7901d"/><stop offset="0.8387" stop-color="#f36020"/><stop offset="0.8548" stop-color="#f25521"/><stop offset="0.8871" stop-color="#ee2c23"/><stop offset="0.9032" stop-color="#ed1c24"/><stop offset="1" stop-color="#ed1c24"/></linearGradient><linearGradient id="fv49"><stop offset="0" stop-color="#1f52a4"/><stop offset="0.129" stop-color="#1e58ab"/><stop offset="0.2258" stop-color="#1d5eb1"/><stop offset="0.2581" stop-color="#1b69ba"/><stop offset="0.3387" stop-color="#12ade9"/><stop offset="0.3548" stop-color="#14aedd"/><stop offset="0.3871" stop-color="#1eb0a0"/><stop offset="0.4194" stop-color="#2bb351"/><stop offset="0.4355" stop-color="#2db34a"/><stop offset="0.5645" stop-color="#36b44a"/><stop offset="0.5968" stop-color="#3db54a"/><stop offset="0.6129" stop-color="#77c241"/><stop offset="0.629" stop-color="#a0cc3a"/><stop offset="0.6613" stop-color="#e6e70f"/><stop offset="0.6774" stop-color="#fee604"/><stop offset="0.7097" stop-color="#f7991b"/><stop offset="0.8387" stop-color="#f35f20"/><stop offset="0.8548" stop-color="#f25421"/><stop offset="0.8871" stop-color="#ee2c23"/><stop offset="0.9032" stop-color="#ed1c24"/><stop offset="1" stop-color="#ed1c24"/></linearGradient><linearGradient id="fv50"><stop offset="0" stop-color="#1f52a4"/><stop offset="0.129" stop-color="#1e58ab"/><stop offset="0.2258" stop-color="#1d5eb1"/><stop offset="0.2581" stop-color="#1b6aba"/><stop offset="0.3226" stop-color="#14a1e3"/><stop offset="0.3387" stop-color="#12ade9"/><stop offset="0.3548" stop-color="#14aedc"/><stop offset="0.3871" stop-color="#1eb09e"/><stop offset="0.4194" stop-color="#2bb34f"/><stop offset="0.5484" stop-color="#35b44a"/><stop offset="0.5968" stop-color="#3db54a"/><stop offset="0.6129" stop-color="#70c142"/><stop offset="0.629" stop-color="#9dcb3a"/><stop offset="0.6613" stop-color="#e9e80e"/><stop offset="0.6774" stop-color="#fee005"/><stop offset="0.7097" stop-color="#f7931d"/><stop offset="0.8387" stop-color="#f35f20"/><stop offset="0.8548" stop-color="#f25321"/><stop offset="0.9032" stop-color="#ed1c24"/><stop offset="1" stop-color="#ed1c24"/></linearGradient><linearGradient id="fv51"><stop offset="0" stop-color="#1f52a4"/><stop offset="0.129" stop-color="#1e58ab"/><stop offset="0.2258" stop-color="#1d5eb2"/><stop offset="0.2581" stop-color="#1b6bbb"/><stop offset="0.3226" stop-color="#13a2e3"/><stop offset="0.3387" stop-color="#12ade8"/><stop offset="0.3548" stop-color="#15aeda"/><stop offset="0.3871" stop-color="#1fb09c"/><stop offset="0.4194" stop-color="#2cb34d"/><stop offset="0.5484" stop-color="#35b44a"/><stop offset="0.5806" stop-color="#37b44a"/><stop offset="0.5968" stop-color="#3cb54a"/><stop offset="0.6129" stop-color="#67bf43"/><stop offset="0.629" stop-color="#9aca3b"/><stop offset="0.6613" stop-color="#ece90c"/><stop offset="0.6774" stop-color="#fdd907"/><stop offset="0.6935" stop-color="#f9ad15"/><stop offset="0.7097" stop-color="#f7911d"/><stop offset="0.8387" stop-color="#f35e20"/><stop offset="0.8548" stop-color="#f25321"/><stop offset="0.9032" stop-color="#ed1c24"/><stop offset="1" stop-color="#ed1c24"/></linearGradient><linearGradient id="fp0"><stop offset="0" stop-color="#ed1c24"/><stop offset="0.129" stop-color="#ed1c24"/><stop offset="0.2581" stop-color="#ed1c24"/><stop offset="0.3226" stop-color="#ed1c24"/><stop offset="0.3387" stop-color="#f04522"/><stop offset="0.3548" stop-color="#f6871e"/><stop offset="0.371" stop-color="#f9ac16"/><stop offset="0.4032" stop-color="#fee803"/><stop offset="0.4194" stop-color="#dfe513"/><stop offset="0.4355" stop-color="#b1d32f"/><stop offset="0.4516" stop-color="#66be43"/><stop offset="0.4677" stop-color="#3ab54a"/><stop offset="0.4839" stop-color="#32b44a"/><stop offset="0.5" stop-color="#29b25e"/><stop offset="0.5161" stop-color="#19afbf"/><stop offset="0.5323" stop-color="#15aed9"/><stop offset="0.5806" stop-color="#12adeb"/><stop offset="0.7097" stop-color="#1a70be"/><stop offset="0.7903" stop-color="#1d5cb0"/><stop offset="0.9194" stop-color="#1e58ac"/><stop offset="1" stop-color="#1e56a9"/></linearGradient><linearGradient id="fp1"><stop offset="0" stop-color="#ed1c24"/><stop offset="0.129" stop-color="#ed1c24"/><stop offset="0.2581" stop-color="#ed1c24"/><stop offset="0.3226" stop-color="#ed1c24"/><stop offset="0.3387" stop-color="#f04522"/><stop offset="0.3548" stop-color="#f6871e"/><stop offset="0.371" stop-color="#f9ac16"/><stop offset="0.4032" stop-color="#fee703"/><stop offset="0.4194" stop-color="#e2e612"/><stop offset="0.4355" stop-color="#b4d42e"/><stop offset="0.4516" stop-color="#6dc042"/><stop offset="0.4677" stop-color="#3ab54a"/><stop offset="0.5" stop-color="#2cb34b"/><stop offset="0.5161" stop-color="#1cafac"/><stop offset="0.5323" stop-color="#15aed8"/><stop offset="0.5806" stop-color="#12adea"/><stop offset="0.6129" stop-color="#14a1e2"/><stop offset="0.7097" stop-color="#1a6fbe"/><stop offset="0.7903" stop-color="#1d5cb0"/><stop offset="0.9194" stop-color="#1e58ac"/><stop offset="1" stop-color="#1e56a9"/></linearGradient><linearGradient id="fp2"><stop offset="0" stop-color="#ed1c24"/><stop offset="0.129" stop-color="#ed1c24"/><stop offset="0.2581" stop-color="#ed1c24"/><stop offset="0.3226" stop-color="#ed1c24"/><stop offset="0.3387" stop-color="#f14622"/><stop offset="0.3548" stop-color="#f6871e"/><stop offset="0.371" stop-color="#f9ab16"/><stop offset="0.4032" stop-color="#fee604"/><stop offset="0.4194" stop-color="#e4e611"/><stop offset="0.4355" stop-color="#b7d52c"/><stop offset="0.4516" stop-color="#74c241"/><stop offset="0.4677" stop-color="#3bb54a"/><stop offset="0.5" stop-color="#2db34a"/><stop offset="0.5161" stop-color="#1fb098"/><stop offset="0.5323" stop-color="#15aed6"/><stop offset="0.5806" stop-color="#12ade9"/><stop offset="0.6129" stop-color="#14a2e3"/><stop offset="0.7097" stop-color="#1a6fbe"/><stop offset="0.8065" stop-color="#1d5baf"/><stop offset="0.9355" stop-color="#1e58ab"/><stop offset="1" stop-color="#1e56a9"/></linearGradient><linearGradient id="fp3"><stop offset="0" stop-color="#ed1c24"/><stop offset="0.129" stop-color="#ed1c24"/><stop offset="0.2581" stop-color="#ed1c24"/><stop offset="0.3226" stop-color="#ed1c24"/><stop offset="0.3387" stop-color="#f14721"/><stop offset="0.3548" stop-color="#f6871e"/><stop offset="0.371" stop-color="#f9ab16"/><stop offset="0.4032" stop-color="#fee504"/><stop offset="0.4194" stop-color="#e6e70f"/><stop offset="0.4355" stop-color="#bad62a"/><stop offset="0.4516" stop-color="#7bc340"/><stop offset="0.4677" stop-color="#3cb54a"/><stop offset="0.5" stop-color="#2fb34a"/><stop offset="0.5161" stop-color="#23b185"/><stop offset="0.5323" stop-color="#16aed5"/><stop offset="0.5806" stop-color="#12ade8"/><stop offset="0.6129" stop-color="#13a2e3"/><stop offset="0.6935" stop-color="#1a74c2"/><stop offset="0.7903" stop-color="#1d5cb0"/><stop offset="0.9194" stop-color="#1e58ac"/><stop offset="1" stop-color="#1e56a9"/></linearGradient><linearGradient id="fp4"><stop offset="0" stop-color="#ed1c24"/><stop offset="0.129" stop-color="#ed1c24"/><stop offset="0.2581" stop-color="#ed1c24"/><stop offset="0.3226" stop-color="#ed1c24"/><stop offset="0.3387" stop-color="#f14721"/><stop offset="0.3548" stop-color="#f6871e"/><stop offset="0.371" stop-color="#f9ab16"/><stop offset="0.4032" stop-color="#fee404"/><stop offset="0.4194" stop-color="#e8e80e"/><stop offset="0.4355" stop-color="#bdd728"/><stop offset="0.4516" stop-color="#82c53f"/><stop offset="0.4677" stop-color="#3cb54a"/><stop offset="0.5" stop-color="#30b34a"/><stop offset="0.5161" stop-color="#26b271"/><stop offset="0.5323" stop-color="#16aed2"/><stop offset="0.5806" stop-color="#13ade7"/><stop offset="0.5968" stop-color="#12aae9"/><stop offset="0.629" stop-color="#159add"/><stop offset="0.6935" stop-color="#1a74c1"/><stop offset="0.7903" stop-color="#1d5cb0"/><stop offset="0.9194" stop-color="#1e58ac"/><stop offset="1" stop-color="#1e56a9"/></linearGradient><linearGradient id="fp5"><stop offset="0" stop-color="#ed1c24"/><stop offset="0.129" stop-color="#ed1c24"/><stop offset="0.2581" stop-color="#ed1c24"/><stop offset="0.3226" stop-color="#ed1c24"/><stop offset="0.3387" stop-color="#f14821"/><stop offset="0.3548" stop-color="#f6881e"/><stop offset="0.371" stop-color="#f9ab16"/><stop offset="0.4032" stop-color="#fee304"/><stop offset="0.4194" stop-color="#e9e90d"/><stop offset="0.4355" stop-color="#c0d827"/><stop offset="0.4516" stop-color="#89c73e"/><stop offset="0.4677" stop-color="#3db54a"/><stop offset="0.5" stop-color="#31b44a"/><stop offset="0.5161" stop-color="#29b25c"/><stop offset="0.5323" stop-color="#19afbe"/><stop offset="0.5484" stop-color="#15aed9"/><stop offset="0.5968" stop-color="#12abe9"/><stop offset="0.6935" stop-color="#1a74c1"/><stop offset="0.7903" stop-color="#1d5cb0"/><stop offset="0.9194" stop-color="#1e58ac"/><stop offset="1" stop-color="#1e56a9"/></linearGradient><linearGradient id="fp6"><stop offset="0" stop-color="#ed1c24"/><stop offset="0.129" stop-color="#ed1c24"/><stop offset="0.2581" stop-color="#ed1c24"/><stop offset="0.3226" stop-color="#ed1c24"/><stop offset="0.3387" stop-color="#f14921"/><stop offset="0.3548" stop-color="#f6881e"/><stop offset="0.371" stop-color="#f9ab16"/><stop offset="0.4032" stop-color="#fee205"/><stop offset="0.4194" stop-color="#ebe90c"/><stop offset="0.4355" stop-color="#c2d925"/><stop offset="0.4516" stop-color="#90c83d"/><stop offset="0.4677" stop-color="#3db54a"/><stop offset="0.5161" stop-color="#2cb34a"/><stop offset="0.5323" stop-color="#1cafab"/><stop offset="0.5484" stop-color="#15aed8"/><stop offset="0.5968" stop-color="#12acea"/><stop offset="0.6935" stop-color="#1a73c1"/><stop offset="0.7742" stop-color="#1d5db1"/><stop offset="0.9032" stop-color="#1e59ac"/><stop offset="1" stop-color="#1e56a9"/></linearGradient><linearGradient id="fp7"><stop offset="0" stop-color="#ed1c24"/><stop offset="0.129" stop-color="#ed1c24"/><stop offset="0.2581" stop-color="#ed1c24"/><stop offset="0.3226" stop-color="#ed1c24"/><stop offset="0.3387" stop-color="#f14921"/><stop offset="0.3548" stop-color="#f6881e"/><stop offset="0.371" stop-color="#f9aa16"/><stop offset="0.4032" stop-color="#fee205"/><stop offset="0.4194" stop-color="#edea0b"/><stop offset="0.4516" stop-color="#98ca3b"/><stop offset="0.4677" stop-color="#3eb54a"/><stop offset="0.5161" stop-color="#2db34a"/><stop offset="0.5323" stop-color="#20b096"/><stop offset="0.5484" stop-color="#15aed7"/><stop offset="0.5968" stop-color="#12adeb"/><stop offset="0.6935" stop-color="#1a73c1"/><stop offset="0.7742" stop-color="#1d5db1"/><stop offset="0.9032" stop-color="#1e59ac"/><stop offset="1" stop-color="#1e56a9"/></linearGradient><linearGradient id="fp8"><stop offset="0" stop-color="#ed1c24"/><stop offset="0.129" stop-color="#ed1c24"/><stop offset="0.2581" stop-color="#ed1c24"/><stop offset="0.3226" stop-color="#ed1c24"/><stop offset="0.3387" stop-color="#f14a21"/><stop offset="0.3548" stop-color="#f6881e"/><stop offset="0.371" stop-color="#f9aa16"/><stop offset="0.4032" stop-color="#fee105"/><stop offset="0.4194" stop-color="#efeb0a"/><stop offset="0.4516" stop-color="#9fcc3a"/><stop offset="0.4677" stop-color="#44b649"/><stop offset="0.4839" stop-color="#39b44a"/><stop offset="0.5161" stop-color="#2eb34a"/><stop offset="0.5323" stop-color="#23b182"/><stop offset="0.5484" stop-color="#16aed5"/><stop offset="0.5968" stop-color="#12adea"/><stop offset="0.629" stop-color="#149de0"/><stop offset="0.6613" stop-color="#1884cd"/><stop offset="0.7097" stop-color="#1b6dbd"/><stop offset="0.8065" stop-color="#1d5baf"/><stop offset="0.9355" stop-color="#1e58ab"/><stop offset="1" stop-color="#1e56a9"/></linearGradient><linearGradient id="fp9"><stop offset="0" stop-color="#ed1c24"/><stop offset="0.129" stop-color="#ed1c24"/><stop offset="0.2581" stop-color="#ed1c24"/><stop offset="0.3226" stop-color="#ed1c24"/><stop offset="0.3387" stop-color="#f14a21"/><stop offset="0.3548" stop-color="#f6881e"/><stop offset="0.371" stop-color="#f9aa16"/><stop offset="0.4032" stop-color="#fee005"/><stop offset="0.4194" stop-color="#f0eb09"/><stop offset="0.4516" stop-color="#a2cd39"/><stop offset="0.4677" stop-color="#4bb848"/><stop offset="0.4839" stop-color="#3ab54a"/><stop offset="0.5161" stop-color="#2fb34a"/><stop offset="0.5323" stop-color="#26b26d"/><stop offset="0.5484" stop-color="#16aed2"/><stop offset="0.5968" stop-color="#12ade9"/><stop offset="0.629" stop-color="#149fe1"/><stop offset="0.6613" stop-color="#1884cd"/><stop offset="0.6935" stop-color="#1a72c0"/><stop offset="0.7742" stop-color="#1d5db1"/><stop offset="0.9032" stop-color="#1e59ac"/><stop offset="1" stop-color="#1e56a9"/></linearGradient><linearGradient id="fp10"><stop offset="0" stop-color="#ed1c24"/><stop offset="0.129" stop-color="#ed1c24"/><stop offset="0.2581" stop-color="#ed1c24"/><stop offset="0.3226" stop-color="#ed1c24"/><stop offset="0.3387" stop-color="#f14b21"/><stop offset="0.3548" stop-color="#f6881e"/><stop offset="0.371" stop-color="#f9aa16"/><stop offset="0.4032" stop-color="#fee005"/><stop offset="0.4194" stop-color="#f2ec08"/><stop offset="0.4516" stop-color="#a5ce37"/><stop offset="0.4677" stop-color="#52ba47"/><stop offset="0.4839" stop-color="#3ab54a"/><stop offset="0.5161" stop-color="#30b34a"/><stop offset="0.5323" stop-color="#2ab258"/><stop offset="0.5484" stop-color="#19afbd"/><stop offset="0.5645" stop-color="#15aeda"/><stop offset="0.5968" stop-color="#12ade8"/><stop offset="0.629" stop-color="#14a0e1"/><stop offset="0.6935" stop-color="#1a72c0"/><stop offset="0.7742" stop-color="#1d5db0"/><stop offset="0.9032" stop-color="#1e59ac"/><stop offset="1" stop-color="#1e56a9"/></linearGradient><linearGradient id="fp11"><stop offset="0" stop-color="#ed1c24"/><stop offset="0.129" stop-color="#ed1c24"/><stop offset="0.2581" stop-color="#ed1c24"/><stop offset="0.3226" stop-color="#ed1c24"/><stop offset="0.3387" stop-color="#f14b21"/><stop offset="0.3548" stop-color="#f6881e"/><stop offset="0.371" stop-color="#f9a916"/><stop offset="0.4032" stop-color="#fddf06"/><stop offset="0.4194" stop-color="#f3ec07"/><stop offset="0.4516" stop-color="#a8cf35"/><stop offset="0.4677" stop-color="#5abc45"/><stop offset="0.4839" stop-color="#3bb54a"/><stop offset="0.5323" stop-color="#2cb34a"/><stop offset="0.5484" stop-color="#1dafa9"/><stop offset="0.5645" stop-color="#15aed8"/><stop offset="0.5968" stop-color="#13ade7"/><stop offset="0.6129" stop-color="#13a9e8"/><stop offset="0.6935" stop-color="#1a72c0"/><stop offset="0.7742" stop-color="#1d5cb0"/><stop offset="0.9032" stop-color="#1e59ac"/><stop offset="1" stop-color="#1e56a9"/></linearGradient><linearGradient id="fp12"><stop offset="0" stop-color="#ed1c24"/><stop offset="0.129" stop-color="#ed1c24"/><stop offset="0.2581" stop-color="#ed1c24"/><stop offset="0.3226" stop-color="#ed1c24"/><stop offset="0.3387" stop-color="#f14c21"/><stop offset="0.3548" stop-color="#f6881e"/><stop offset="0.371" stop-color="#f9a916"/><stop offset="0.4032" stop-color="#fdde06"/><stop offset="0.4194" stop-color="#f4ed06"/><stop offset="0.4516" stop-color="#abd033"/><stop offset="0.4677" stop-color="#61bd44"/><stop offset="0.4839" stop-color="#3bb54a"/><stop offset="0.5323" stop-color="#2db34a"/><stop offset="0.5484" stop-color="#20b094"/><stop offset="0.5645" stop-color="#15aed7"/><stop offset="0.5968" stop-color="#13ade6"/><stop offset="0.6129" stop-color="#12aae9"/><stop offset="0.6935" stop-color="#1a71bf"/><stop offset="0.7742" stop-color="#1d5cb0"/><stop offset="0.9032" stop-color="#1e59ac"/><stop offset="1" stop-color="#1e56a9"/></linearGradient><linearGradient id="fp13"><stop offset="0" stop-color="#ed1c24"/><stop offset="0.129" stop-color="#ed1c24"/><stop offset="0.2581" stop-color="#ed1c24"/><stop offset="0.3226" stop-color="#ed1c24"/><stop offset="0.3387" stop-color="#f14c21"/><stop offset="0.3548" stop-color="#f6881e"/><stop offset="0.371" stop-color="#f9a916"/><stop offset="0.4032" stop-color="#fdde06"/><stop offset="0.4194" stop-color="#f6ed06"/><stop offset="0.4516" stop-color="#add132"/><stop offset="0.4677" stop-color="#68bf43"/><stop offset="0.4839" stop-color="#3cb54a"/><stop offset="0.5323" stop-color="#2eb34a"/><stop offset="0.5484" stop-color="#23b17f"/><stop offset="0.5645" stop-color="#15aed5"/><stop offset="0.5968" stop-color="#13ade5"/><stop offset="0.6129" stop-color="#12abe9"/><stop offset="0.6935" stop-color="#1a71bf"/><stop offset="0.7742" stop-color="#1d5cb0"/><stop offset="0.9032" stop-color="#1e59ac"/><stop offset="1" stop-color="#1e56a9"/></linearGradient><linearGradient id="fp14"><stop offset="0" stop-color="#ed1c24"/><stop offset="0.129" stop-color="#ed1c24"/><stop offset="0.2581" stop-color="#ed1c24"/><stop offset="0.3226" stop-color="#ed1c24"/><stop offset="0.3387" stop-color="#f14d21"/><stop offset="0.3548" stop-color="#f6881e"/><stop offset="0.371" stop-color="#f9a916"/><stop offset="0.4032" stop-color="#fddd06"/><stop offset="0.4194" stop-color="#f7ee05"/><stop offset="0.4516" stop-color="#b0d230"/><stop offset="0.4677" stop-color="#6fc142"/><stop offset="0.4839" stop-color="#3cb54a"/><stop offset="0.5323" stop-color="#2fb34a"/><stop offset="0.5484" stop-color="#27b269"/><stop offset="0.5645" stop-color="#16aed1"/><stop offset="0.6129" stop-color="#12acea"/><stop offset="0.6452" stop-color="#1595da"/><stop offset="0.6613" stop-color="#1785ce"/><stop offset="0.6935" stop-color="#1a71bf"/><stop offset="0.7742" stop-color="#1d5cb0"/><stop offset="0.9032" stop-color="#1e59ac"/><stop offset="1" stop-color="#1e56a9"/></linearGradient><linearGradient id="fp15"><stop offset="0" stop-color="#ed1c24"/><stop offset="0.129" stop-color="#ed1c24"/><stop offset="0.2581" stop-color="#ed1c24"/><stop offset="0.3226" stop-color="#ed1c24"/><stop offset="0.3387" stop-color="#f14d21"/><stop offset="0.3548" stop-color="#f6881e"/><stop offset="0.371" stop-color="#f9a917"/><stop offset="0.4032" stop-color="#fddc06"/><stop offset="0.4194" stop-color="#f8ee04"/><stop offset="0.4516" stop-color="#b2d32f"/><stop offset="0.4677" stop-color="#76c241"/><stop offset="0.4839" stop-color="#3cb54a"/><stop offset="0.5323" stop-color="#30b34a"/><stop offset="0.5484" stop-color="#2ab353"/><stop offset="0.5645" stop-color="#1aafbc"/><stop offset="0.5806" stop-color="#15aeda"/><stop offset="0.6129" stop-color="#12adeb"/><stop offset="0.6452" stop-color="#1596da"/><stop offset="0.6613" stop-color="#1785ce"/><stop offset="0.6935" stop-color="#1a70bf"/><stop offset="0.7742" stop-color="#1d5cb0"/><stop offset="0.9032" stop-color="#1e59ac"/><stop offset="1" stop-color="#1e56a9"/></linearGradient><linearGradient id="fp16"><stop offset="0" stop-color="#ed1c24"/><stop offset="0.129" stop-color="#ed1c24"/><stop offset="0.2581" stop-color="#ed1c24"/><stop offset="0.3226" stop-color="#ed1c24"/><stop offset="0.3387" stop-color="#f14e21"/><stop offset="0.3548" stop-color="#f6881e"/><stop offset="0.371" stop-color="#f9a917"/><stop offset="0.4032" stop-color="#fddc07"/><stop offset="0.4194" stop-color="#f9ef03"/><stop offset="0.4516" stop-color="#b5d42d"/><stop offset="0.4677" stop-color="#7dc440"/><stop offset="0.4839" stop-color="#3db54a"/><stop offset="0.5484" stop-color="#2cb34a"/><stop offset="0.5645" stop-color="#1db0a7"/><stop offset="0.5806" stop-color="#15aed9"/><stop offset="0.6129" stop-color="#12adea"/><stop offset="0.629" stop-color="#13a5e5"/><stop offset="0.6613" stop-color="#1785ce"/><stop offset="0.6935" stop-color="#1a70bf"/><stop offset="0.7903" stop-color="#1d5baf"/><stop offset="0.9194" stop-color="#1e58ac"/><stop offset="1" stop-color="#1e56a9"/></linearGradient><linearGradient id="fp17"><stop offset="0" stop-color="#ed1c24"/><stop offset="0.129" stop-color="#ed1c24"/><stop offset="0.2581" stop-color="#ed1c24"/><stop offset="0.3226" stop-color="#ed1c24"/><stop offset="0.3387" stop-color="#f14e21"/><stop offset="0.3548" stop-color="#f6871e"/><stop offset="0.371" stop-color="#f9a817"/><stop offset="0.4032" stop-color="#fddb07"/><stop offset="0.4194" stop-color="#fbef02"/><stop offset="0.4516" stop-color="#b7d52c"/><stop offset="0.4677" stop-color="#84c53f"/><stop offset="0.4839" stop-color="#3db54a"/><stop offset="0.5484" stop-color="#2db34a"/><stop offset="0.5806" stop-color="#15aed7"/><stop offset="0.6129" stop-color="#12ade9"/><stop offset="0.629" stop-color="#13a6e6"/><stop offset="0.6613" stop-color="#1785ce"/><stop offset="0.6935" stop-color="#1a70be"/><stop offset="0.7903" stop-color="#1d5baf"/><stop offset="0.9194" stop-color="#1e58ac"/><stop offset="1" stop-color="#1e56a9"/></linearGradient><linearGradient id="fp18"><stop offset="0" stop-color="#ed1c24"/><stop offset="0.129" stop-color="#ed1c24"/><stop offset="0.2581" stop-color="#ed1c24"/><stop offset="0.3226" stop-color="#ed1c24"/><stop offset="0.3548" stop-color="#f6851e"/><stop offset="0.371" stop-color="#f9a717"/><stop offset="0.4194" stop-color="#fdf001"/><stop offset="0.4516" stop-color="#b9d62b"/><stop offset="0.4677" stop-color="#8ac73e"/><stop offset="0.4839" stop-color="#3eb54a"/><stop offset="0.5484" stop-color="#2eb34a"/><stop offset="0.5645" stop-color="#24b17c"/><stop offset="0.5806" stop-color="#15aed6"/><stop offset="0.6129" stop-color="#12ade8"/><stop offset="0.629" stop-color="#13a6e6"/><stop offset="0.6452" stop-color="#1599dc"/><stop offset="0.6613" stop-color="#1785ce"/><stop offset="0.6935" stop-color="#1a6fbe"/><stop offset="0.7581" stop-color="#1d5db1"/><stop offset="0.8871" stop-color="#1e59ac"/><stop offset="1" stop-color="#1e56a9"/></linearGradient><linearGradient id="fp19"><stop offset="0" stop-color="#ed1c24"/><stop offset="0.129" stop-color="#ed1c24"/><stop offset="0.2581" stop-color="#ed1c24"/><stop offset="0.3226" stop-color="#ed1c24"/><stop offset="0.3548" stop-color="#f6831e"/><stop offset="0.371" stop-color="#f8a518"/><stop offset="0.4194" stop-color="#fff100"/><stop offset="0.4516" stop-color="#bbd729"/><stop offset="0.4677" stop-color="#91c83d"/><stop offset="0.4839" stop-color="#3eb54a"/><stop offset="0.5484" stop-color="#2fb34a"/><stop offset="0.5645" stop-color="#27b266"/><stop offset="0.5806" stop-color="#16aed2"/><stop offset="0.6129" stop-color="#13ade7"/><stop offset="0.629" stop-color="#13a7e6"/><stop offset="0.6452" stop-color="#1599dc"/><stop offset="0.6613" stop-color="#1785ce"/><stop offset="0.6935" stop-color="#1a6fbe"/><stop offset="0.7581" stop-color="#1d5db1"/><stop offset="0.8871" stop-color="#1e59ac"/><stop offset="1" stop-color="#1e56a9"/></linearGradient><linearGradient id="fp20"><stop offset="0" stop-color="#ed1c24"/><stop offset="0.129" stop-color="#ed1c24"/><stop offset="0.2581" stop-color="#ed1c24"/><stop offset="0.3226" stop-color="#ed1c24"/><stop offset="0.3548" stop-color="#f5811e"/><stop offset="0.371" stop-color="#f8a418"/><stop offset="0.4194" stop-color="#fff000"/><stop offset="0.4516" stop-color="#bed828"/><stop offset="0.4677" stop-color="#96ca3c"/><stop offset="0.4839" stop-color="#44b749"/><stop offset="0.5484" stop-color="#2fb34a"/><stop offset="0.5645" stop-color="#2bb350"/><stop offset="0.5806" stop-color="#19afbd"/><stop offset="0.5968" stop-color="#14aedc"/><stop offset="0.6129" stop-color="#13ade6"/><stop offset="0.629" stop-color="#13a7e7"/><stop offset="0.6452" stop-color="#1599dd"/><stop offset="0.6613" stop-color="#1785ce"/><stop offset="0.6935" stop-color="#1a6fbd"/><stop offset="0.7581" stop-color="#1d5cb0"/><stop offset="0.8871" stop-color="#1e59ac"/><stop offset="1" stop-color="#1e56a9"/></linearGradient><linearGradient id="fp21"><stop offset="0" stop-color="#ed1c24"/><stop offset="0.129" stop-color="#ed1c24"/><stop offset="0.2581" stop-color="#ed1c24"/><stop offset="0.3226" stop-color="#ed1c24"/><stop offset="0.3548" stop-color="#f5801e"/><stop offset="0.371" stop-color="#f8a318"/><stop offset="0.4194" stop-color="#ffee01"/><stop offset="0.4516" stop-color="#c0d827"/><stop offset="0.4677" stop-color="#9ccb3b"/><stop offset="0.4839" stop-color="#4cb848"/><stop offset="0.5" stop-color="#3bb54a"/><stop offset="0.5645" stop-color="#2db34a"/><stop offset="0.5806" stop-color="#1db0a7"/><stop offset="0.5968" stop-color="#15aeda"/><stop offset="0.6129" stop-color="#13ade5"/><stop offset="0.629" stop-color="#13a8e7"/><stop offset="0.6452" stop-color="#159add"/><stop offset="0.6613" stop-color="#1785ce"/><stop offset="0.6935" stop-color="#1b6ebd"/><stop offset="0.7581" stop-color="#1d5cb0"/><stop offset="0.8871" stop-color="#1e59ac"/><stop offset="1" stop-color="#1e56a9"/></linearGradient><linearGradient id="fp22"><stop offset="0" stop-color="#ed1c24"/><stop offset="0.129" stop-color="#ed1c24"/><stop offset="0.2581" stop-color="#ed1c24"/><stop offset="0.3226" stop-color="#ed1c24"/><stop offset="0.3548" stop-color="#f57e1e"/><stop offset="0.371" stop-color="#f8a219"/><stop offset="0.4194" stop-color="#ffed01"/><stop offset="0.4355" stop-color="#e3e611"/><stop offset="0.4677" stop-color="#a1cc3a"/><stop offset="0.4839" stop-color="#53ba47"/><stop offset="0.5" stop-color="#3bb54a"/><stop offset="0.5645" stop-color="#2db34a"/><stop offset="0.5968" stop-color="#15aed8"/><stop offset="0.6129" stop-color="#13ade4"/><stop offset="0.629" stop-color="#13a9e8"/><stop offset="0.6452" stop-color="#159add"/><stop offset="0.6613" stop-color="#1785ce"/><stop offset="0.6935" stop-color="#1b6dbd"/><stop offset="0.7581" stop-color="#1d5cb0"/><stop offset="0.8871" stop-color="#1e59ac"/><stop offset="1" stop-color="#1e56a9"/></linearGradient><linearGradient id="fp23"><stop offset="0" stop-color="#ed1c24"/><stop offset="0.129" stop-color="#ed1c24"/><stop offset="0.2581" stop-color="#ed1c24"/><stop offset="0.3226" stop-color="#ed1d24"/><stop offset="0.3548" stop-color="#f57d1e"/><stop offset="0.371" stop-color="#f8a119"/><stop offset="0.4194" stop-color="#ffec02"/><stop offset="0.4355" stop-color="#e5e710"/><stop offset="0.4677" stop-color="#a3cd38"/><stop offset="0.4839" stop-color="#59bb46"/><stop offset="0.5" stop-color="#3cb54a"/><stop offset="0.5645" stop-color="#2eb34a"/><stop offset="0.5806" stop-color="#24b17b"/><stop offset="0.5968" stop-color="#15aed6"/><stop offset="0.629" stop-color="#12aae9"/><stop offset="0.6452" stop-color="#149bde"/><stop offset="0.6613" stop-color="#1884cd"/><stop offset="0.6935" stop-color="#1b6dbc"/><stop offset="0.7258" stop-color="#1c60b3"/><stop offset="0.8548" stop-color="#1d5aad"/><stop offset="0.9839" stop-color="#1e57aa"/><stop offset="1" stop-color="#1e56a9"/></linearGradient><linearGradient id="fp24"><stop offset="0" stop-color="#ed1c24"/><stop offset="0.129" stop-color="#ed1c24"/><stop offset="0.2581" stop-color="#ed1c24"/><stop offset="0.3226" stop-color="#ed1f24"/><stop offset="0.3548" stop-color="#f57b1e"/><stop offset="0.371" stop-color="#f8a019"/><stop offset="0.4194" stop-color="#feea02"/><stop offset="0.4355" stop-color="#e7e80f"/><stop offset="0.4677" stop-color="#a5ce37"/><stop offset="0.4839" stop-color="#60bd44"/><stop offset="0.5" stop-color="#3cb54a"/><stop offset="0.5645" stop-color="#2fb34a"/><stop offset="0.5806" stop-color="#28b265"/><stop offset="0.5968" stop-color="#16aed4"/><stop offset="0.629" stop-color="#12abe9"/><stop offset="0.6452" stop-color="#149bde"/><stop offset="0.6613" stop-color="#1884cd"/><stop offset="0.6774" stop-color="#1a75c2"/><stop offset="0.7258" stop-color="#1c60b3"/><stop offset="0.8548" stop-color="#1d5aad"/><stop offset="0.9839" stop-color="#1e57aa"/><stop offset="1" stop-color="#1e56a9"/></linearGradient><linearGradient id="fp25"><stop offset="0" stop-color="#ed1c24"/><stop offset="0.129" stop-color="#ed1c24"/><stop offset="0.2581" stop-color="#ed1c24"/><stop offset="0.3065" stop-color="#ed1c24"/><stop offset="0.3226" stop-color="#ed2024"/><stop offset="0.3548" stop-color="#f57a1f"/><stop offset="0.371" stop-color="#f89e1a"/><stop offset="0.4194" stop-color="#fee902"/><stop offset="0.4355" stop-color="#e9e80e"/><stop offset="0.4677" stop-color="#a7cf36"/><stop offset="0.4839" stop-color="#66be43"/><stop offset="0.5" stop-color="#3cb54a"/><stop offset="0.5645" stop-color="#2fb34a"/><stop offset="0.5806" stop-color="#2bb34e"/><stop offset="0.5968" stop-color="#19afbe"/><stop offset="0.6129" stop-color="#14addf"/><stop offset="0.629" stop-color="#12acea"/><stop offset="0.6452" stop-color="#149cde"/><stop offset="0.6613" stop-color="#1884cd"/><stop offset="0.6774" stop-color="#1a74c2"/><stop offset="0.7258" stop-color="#1d60b3"/><stop offset="0.8548" stop-color="#1d5aad"/><stop offset="0.9839" stop-color="#1e57aa"/><stop offset="1" stop-color="#1e56a9"/></linearGradient><linearGradient id="fp26"><stop offset="0" stop-color="#ed1c24"/><stop offset="0.129" stop-color="#ed1c24"/><stop offset="0.2581" stop-color="#ed1c24"/><stop offset="0.3065" stop-color="#ed1c24"/><stop offset="0.3226" stop-color="#ed2124"/><stop offset="0.3548" stop-color="#f5781f"/><stop offset="0.371" stop-color="#f89d1a"/><stop offset="0.4194" stop-color="#fee803"/><stop offset="0.4355" stop-color="#ebe90c"/><stop offset="0.4677" stop-color="#aad034"/><stop offset="0.4839" stop-color="#6cc042"/><stop offset="0.5" stop-color="#3db54a"/><stop offset="0.5806" stop-color="#2db34a"/><stop offset="0.5968" stop-color="#1db0a8"/><stop offset="0.6129" stop-color="#14aedd"/><stop offset="0.629" stop-color="#12adeb"/><stop offset="0.6452" stop-color="#149cdf"/><stop offset="0.6613" stop-color="#1884cd"/><stop offset="0.6774" stop-color="#1a73c1"/><stop offset="0.7097" stop-color="#1c63b5"/><stop offset="0.8387" stop-color="#1d5aae"/><stop offset="0.9677" stop-color="#1e57aa"/><stop offset="1" stop-color="#1e56a9"/></linearGradient><linearGradient id="fp27"><stop offset="0" stop-color="#ed1c24"/><stop offset="0.129" stop-color="#ed1c24"/><stop offset="0.2581" stop-color="#ed1c24"/><stop offset="0.3065" stop-color="#ed1c24"/><stop offset="0.3226" stop-color="#ed2224"/><stop offset="0.3548" stop-color="#f5771f"/><stop offset="0.371" stop-color="#f89c1a"/><stop offset="0.4194" stop-color="#fee603"/><stop offset="0.4355" stop-color="#ecea0b"/><stop offset="0.4677" stop-color="#acd133"/><stop offset="0.4839" stop-color="#72c142"/><stop offset="0.5" stop-color="#3db54a"/><stop offset="0.5806" stop-color="#2db34a"/><stop offset="0.6129" stop-color="#15aeda"/><stop offset="0.629" stop-color="#12adea"/><stop offset="0.6452" stop-color="#149ddf"/><stop offset="0.6613" stop-color="#1883cd"/><stop offset="0.6774" stop-color="#1a72c0"/><stop offset="0.7097" stop-color="#1c62b5"/><stop offset="0.8387" stop-color="#1d5aad"/><stop offset="0.9677" stop-color="#1e57aa"/><stop offset="1" stop-color="#1e56a9"/></linearGradient><linearGradient id="fp28"><stop offset="0" stop-color="#ed1c24"/><stop offset="0.129" stop-color="#ed1c24"/><stop offset="0.2581" stop-color="#ed1c24"/><stop offset="0.3065" stop-color="#ed1c24"/><stop offset="0.3226" stop-color="#ee2324"/><stop offset="0.3548" stop-color="#f5761f"/><stop offset="0.371" stop-color="#f89b1b"/><stop offset="0.4194" stop-color="#fee504"/><stop offset="0.4355" stop-color="#eeeb0a"/><stop offset="0.4677" stop-color="#aed132"/><stop offset="0.4839" stop-color="#77c241"/><stop offset="0.5" stop-color="#3db54a"/><stop offset="0.5806" stop-color="#2eb34a"/><stop offset="0.5968" stop-color="#24b17a"/><stop offset="0.6129" stop-color="#15aed8"/><stop offset="0.629" stop-color="#12ade8"/><stop offset="0.6452" stop-color="#149ee0"/><stop offset="0.6613" stop-color="#1883cc"/><stop offset="0.6774" stop-color="#1a71bf"/><stop offset="0.7097" stop-color="#1c61b4"/><stop offset="0.8387" stop-color="#1d5aad"/><stop offset="0.9677" stop-color="#1e57aa"/><stop offset="1" stop-color="#1e56a9"/></linearGradient><linearGradient id="fp29"><stop offset="0" stop-color="#ed1c24"/><stop offset="0.129" stop-color="#ed1c24"/><stop offset="0.2581" stop-color="#ed1c24"/><stop offset="0.3065" stop-color="#ed1c24"/><stop offset="0.3226" stop-color="#ee2424"/><stop offset="0.371" stop-color="#f79a1b"/><stop offset="0.4194" stop-color="#fee404"/><stop offset="0.4355" stop-color="#f0eb09"/><stop offset="0.4677" stop-color="#b0d230"/><stop offset="0.4839" stop-color="#7dc440"/><stop offset="0.5" stop-color="#3eb54a"/><stop offset="0.5806" stop-color="#2eb34a"/><stop offset="0.5968" stop-color="#28b263"/><stop offset="0.6129" stop-color="#16aed4"/><stop offset="0.629" stop-color="#13ade6"/><stop offset="0.6452" stop-color="#149ee0"/><stop offset="0.6613" stop-color="#1883cc"/><stop offset="0.6774" stop-color="#1a71bf"/><stop offset="0.7097" stop-color="#1c61b3"/><stop offset="0.8387" stop-color="#1d5aad"/><stop offset="0.9677" stop-color="#1e57aa"/><stop offset="1" stop-color="#1e56a9"/></linearGradient><linearGradient id="fp30"><stop offset="0" stop-color="#ed1c24"/><stop offset="0.129" stop-color="#ed1c24"/><stop offset="0.2581" stop-color="#ed1c24"/><stop offset="0.3065" stop-color="#ed1c24"/><stop offset="0.3226" stop-color="#ee2523"/><stop offset="0.371" stop-color="#f7991c"/><stop offset="0.4194" stop-color="#fee205"/><stop offset="0.4355" stop-color="#f2ec08"/><stop offset="0.4677" stop-color="#b2d32f"/><stop offset="0.4839" stop-color="#82c53f"/><stop offset="0.5" stop-color="#3eb54a"/><stop offset="0.5968" stop-color="#2cb34b"/><stop offset="0.6129" stop-color="#19afc0"/><stop offset="0.629" stop-color="#13ade4"/><stop offset="0.6452" stop-color="#149fe1"/><stop offset="0.6613" stop-color="#1882cc"/><stop offset="0.6774" stop-color="#1a70bf"/><stop offset="0.7097" stop-color="#1c60b3"/><stop offset="0.8387" stop-color="#1d5aad"/><stop offset="0.9677" stop-color="#1e57aa"/><stop offset="1" stop-color="#1e56a9"/></linearGradient><linearGradient id="fp31"><stop offset="0" stop-color="#ed1c24"/><stop offset="0.129" stop-color="#ed1c24"/><stop offset="0.2581" stop-color="#ed1c24"/><stop offset="0.3065" stop-color="#ed1c24"/><stop offset="0.3226" stop-color="#ee2523"/><stop offset="0.371" stop-color="#f7981c"/><stop offset="0.4194" stop-color="#fee105"/><stop offset="0.4355" stop-color="#f4ed07"/><stop offset="0.4677" stop-color="#b4d42e"/><stop offset="0.4839" stop-color="#88c63e"/><stop offset="0.5" stop-color="#44b649"/><stop offset="0.5161" stop-color="#3bb54a"/><stop offset="0.5968" stop-color="#2db34a"/><stop offset="0.6129" stop-color="#1dafa8"/><stop offset="0.629" stop-color="#14ade1"/><stop offset="0.6452" stop-color="#14a0e2"/><stop offset="0.6613" stop-color="#1881cb"/><stop offset="0.6774" stop-color="#1a6fbe"/><stop offset="0.7097" stop-color="#1c60b3"/><stop offset="0.8387" stop-color="#1d5aad"/><stop offset="0.9677" stop-color="#1e57aa"/><stop offset="1" stop-color="#1e56a9"/></linearGradient><linearGradient id="fp32"><stop offset="0" stop-color="#ed1c24"/><stop offset="0.129" stop-color="#ed1c24"/><stop offset="0.2581" stop-color="#ed1c24"/><stop offset="0.3065" stop-color="#ed1c24"/><stop offset="0.3226" stop-color="#ee2623"/><stop offset="0.371" stop-color="#f7971c"/><stop offset="0.4194" stop-color="#fee005"/><stop offset="0.4355" stop-color="#f6ed06"/><stop offset="0.4677" stop-color="#b6d52c"/><stop offset="0.4839" stop-color="#8dc73d"/><stop offset="0.5" stop-color="#4ab848"/><stop offset="0.5161" stop-color="#3cb54a"/><stop offset="0.5968" stop-color="#2db34a"/><stop offset="0.6129" stop-color="#21b091"/><stop offset="0.629" stop-color="#14adde"/><stop offset="0.6452" stop-color="#14a1e2"/><stop offset="0.6613" stop-color="#1880ca"/><stop offset="0.6774" stop-color="#1b6ebd"/><stop offset="0.7097" stop-color="#1c60b3"/><stop offset="0.8387" stop-color="#1d5aad"/><stop offset="0.9677" stop-color="#1e57aa"/><stop offset="1" stop-color="#1e56a9"/></linearGradient><linearGradient id="fp33"><stop offset="0" stop-color="#ed1c24"/><stop offset="0.129" stop-color="#ed1c24"/><stop offset="0.2581" stop-color="#ed1c24"/><stop offset="0.3065" stop-color="#ed1c24"/><stop offset="0.3226" stop-color="#ee2623"/><stop offset="0.371" stop-color="#f7961c"/><stop offset="0.4194" stop-color="#fddf06"/><stop offset="0.4355" stop-color="#f7ee05"/><stop offset="0.4677" stop-color="#b9d62b"/><stop offset="0.4839" stop-color="#92c93c"/><stop offset="0.5" stop-color="#50b947"/><stop offset="0.5161" stop-color="#3cb54a"/><stop offset="0.5968" stop-color="#2eb34a"/><stop offset="0.6129" stop-color="#24b179"/><stop offset="0.629" stop-color="#15aeda"/><stop offset="0.6452" stop-color="#13a2e3"/><stop offset="0.6613" stop-color="#187fca"/><stop offset="0.6774" stop-color="#1b6ebd"/><stop offset="0.7097" stop-color="#1d60b3"/><stop offset="0.8387" stop-color="#1d5aad"/><stop offset="0.9677" stop-color="#1e57aa"/><stop offset="1" stop-color="#1e56a9"/></linearGradient><symbol id="fv" viewBox="0 0 155 77" preserveAspectRatio="none"><g><rect x="0" y="0.000" width="155" height="2.300" fill="url(#fv0)"/><rect x="0" y="1.000" width="155" height="2.300" fill="url(#fv1)"/><rect x="0" y="2.000" width="155" height="2.300" fill="url(#fv2)"/><rect x="0" y="3.000" width="155" height="2.300" fill="url(#fv3)"/><rect x="0" y="4.000" width="155" height="2.300" fill="url(#fv4)"/><rect x="0" y="5.000" width="155" height="2.300" fill="url(#fv5)"/><rect x="0" y="6.000" width="155" height="2.300" fill="url(#fv6)"/><rect x="0" y="7.000" width="155" height="2.300" fill="url(#fv7)"/><rect x="0" y="8.000" width="155" height="2.800" fill="url(#fv8)"/><rect x="0" y="9.500" width="155" height="2.800" fill="url(#fv9)"/><rect x="0" y="11.000" width="155" height="2.800" fill="url(#fv10)"/><rect x="0" y="12.500" width="155" height="2.800" fill="url(#fv11)"/><rect x="0" y="14.000" width="155" height="2.800" fill="url(#fv12)"/><rect x="0" y="15.500" width="155" height="2.800" fill="url(#fv13)"/><rect x="0" y="17.000" width="155" height="2.800" fill="url(#fv14)"/><rect x="0" y="18.500" width="155" height="2.800" fill="url(#fv15)"/><rect x="0" y="20.000" width="155" height="2.800" fill="url(#fv16)"/><rect x="0" y="21.500" width="155" height="2.800" fill="url(#fv17)"/><rect x="0" y="23.000" width="155" height="2.888" fill="url(#fv18)"/><rect x="0" y="24.588" width="155" height="2.888" fill="url(#fv19)"/><rect x="0" y="26.176" width="155" height="2.888" fill="url(#fv20)"/><rect x="0" y="27.765" width="155" height="2.888" fill="url(#fv21)"/><rect x="0" y="29.353" width="155" height="2.888" fill="url(#fv22)"/><rect x="0" y="30.941" width="155" height="2.888" fill="url(#fv23)"/><rect x="0" y="32.529" width="155" height="2.888" fill="url(#fv24)"/><rect x="0" y="34.118" width="155" height="2.888" fill="url(#fv25)"/><rect x="0" y="35.706" width="155" height="2.888" fill="url(#fv26)"/><rect x="0" y="37.294" width="155" height="2.888" fill="url(#fv27)"/><rect x="0" y="38.882" width="155" height="2.888" fill="url(#fv28)"/><rect x="0" y="40.471" width="155" height="2.888" fill="url(#fv29)"/><rect x="0" y="42.059" width="155" height="2.888" fill="url(#fv30)"/><rect x="0" y="43.647" width="155" height="2.888" fill="url(#fv31)"/><rect x="0" y="45.235" width="155" height="2.888" fill="url(#fv32)"/><rect x="0" y="46.824" width="155" height="2.888" fill="url(#fv33)"/><rect x="0" y="48.412" width="155" height="2.888" fill="url(#fv34)"/><rect x="0" y="50.000" width="155" height="2.888" fill="url(#fv35)"/><rect x="0" y="51.588" width="155" height="2.888" fill="url(#fv36)"/><rect x="0" y="53.176" width="155" height="2.888" fill="url(#fv37)"/><rect x="0" y="54.765" width="155" height="2.888" fill="url(#fv38)"/><rect x="0" y="56.353" width="155" height="2.888" fill="url(#fv39)"/><rect x="0" y="57.941" width="155" height="2.888" fill="url(#fv40)"/><rect x="0" y="59.529" width="155" height="2.888" fill="url(#fv41)"/><rect x="0" y="61.118" width="155" height="2.888" fill="url(#fv42)"/><rect x="0" y="62.706" width="155" height="2.888" fill="url(#fv43)"/><rect x="0" y="64.294" width="155" height="2.888" fill="url(#fv44)"/><rect x="0" y="65.882" width="155" height="2.888" fill="url(#fv45)"/><rect x="0" y="67.471" width="155" height="2.888" fill="url(#fv46)"/><rect x="0" y="69.059" width="155" height="2.888" fill="url(#fv47)"/><rect x="0" y="70.647" width="155" height="2.888" fill="url(#fv48)"/><rect x="0" y="72.235" width="155" height="2.888" fill="url(#fv49)"/><rect x="0" y="73.824" width="155" height="2.888" fill="url(#fv50)"/><rect x="0" y="75.412" width="155" height="1.588" fill="url(#fv51)"/></g></symbol><symbol id="fp" viewBox="0 0 155 77" preserveAspectRatio="none"><g><rect x="0" y="0.000" width="155" height="3.565" fill="url(#fp0)"/><rect x="0" y="2.265" width="155" height="3.565" fill="url(#fp1)"/><rect x="0" y="4.529" width="155" height="3.565" fill="url(#fp2)"/><rect x="0" y="6.794" width="155" height="3.565" fill="url(#fp3)"/><rect x="0" y="9.059" width="155" height="3.565" fill="url(#fp4)"/><rect x="0" y="11.324" width="155" height="3.565" fill="url(#fp5)"/><rect x="0" y="13.588" width="155" height="3.565" fill="url(#fp6)"/><rect x="0" y="15.853" width="155" height="3.565" fill="url(#fp7)"/><rect x="0" y="18.118" width="155" height="3.565" fill="url(#fp8)"/><rect x="0" y="20.382" width="155" height="3.565" fill="url(#fp9)"/><rect x="0" y="22.647" width="155" height="3.565" fill="url(#fp10)"/><rect x="0" y="24.912" width="155" height="3.565" fill="url(#fp11)"/><rect x="0" y="27.176" width="155" height="3.565" fill="url(#fp12)"/><rect x="0" y="29.441" width="155" height="3.565" fill="url(#fp13)"/><rect x="0" y="31.706" width="155" height="3.565" fill="url(#fp14)"/><rect x="0" y="33.971" width="155" height="3.565" fill="url(#fp15)"/><rect x="0" y="36.235" width="155" height="3.565" fill="url(#fp16)"/><rect x="0" y="38.500" width="155" height="3.565" fill="url(#fp17)"/><rect x="0" y="40.765" width="155" height="3.565" fill="url(#fp18)"/><rect x="0" y="43.029" width="155" height="3.565" fill="url(#fp19)"/><rect x="0" y="45.294" width="155" height="3.565" fill="url(#fp20)"/><rect x="0" y="47.559" width="155" height="3.565" fill="url(#fp21)"/><rect x="0" y="49.824" width="155" height="3.565" fill="url(#fp22)"/><rect x="0" y="52.088" width="155" height="3.565" fill="url(#fp23)"/><rect x="0" y="54.353" width="155" height="3.565" fill="url(#fp24)"/><rect x="0" y="56.618" width="155" height="3.565" fill="url(#fp25)"/><rect x="0" y="58.882" width="155" height="3.565" fill="url(#fp26)"/><rect x="0" y="61.147" width="155" height="3.565" fill="url(#fp27)"/><rect x="0" y="63.412" width="155" height="3.565" fill="url(#fp28)"/><rect x="0" y="65.676" width="155" height="3.565" fill="url(#fp29)"/><rect x="0" y="67.941" width="155" height="3.565" fill="url(#fp30)"/><rect x="0" y="70.206" width="155" height="3.565" fill="url(#fp31)"/><rect x="0" y="72.471" width="155" height="3.565" fill="url(#fp32)"/><rect x="0" y="74.735" width="155" height="2.265" fill="url(#fp33)"/></g></symbol><linearGradient id="nv" gradientUnits="userSpaceOnUse" x1="0" y1="0" x2="155" y2="0"><stop offset="0" stop-color="#1f52a4"/><stop offset="0.2581" stop-color="#1f52a4"/><stop offset="0.2645" stop-color="#1e59ad"/><stop offset="0.2774" stop-color="#1d5cb0"/><stop offset="0.2903" stop-color="#1b6abb"/><stop offset="0.2968" stop-color="#1977c4"/><stop offset="0.3161" stop-color="#149ddf"/><stop offset="0.3245" stop-color="#12adeb"/><stop offset="0.3355" stop-color="#1eb0a1"/><stop offset="0.3484" stop-color="#2cb34a"/><stop offset="0.3548" stop-color="#2eb34a"/><stop offset="0.3742" stop-color="#34b44a"/><stop offset="0.3935" stop-color="#39b44a"/><stop offset="0.4103" stop-color="#3eb54a"/><stop offset="0.4129" stop-color="#4ab848"/><stop offset="0.4323" stop-color="#a0cc3a"/><stop offset="0.4516" stop-color="#dfe513"/><stop offset="0.4613" stop-color="#fff100"/><stop offset="0.471" stop-color="#fdd509"/><stop offset="0.4903" stop-color="#f89d1a"/><stop offset="0.4935" stop-color="#f7941d"/><stop offset="0.5097" stop-color="#f6881e"/><stop offset="0.529" stop-color="#f5791f"/><stop offset="0.5484" stop-color="#f36a1f"/><stop offset="0.5677" stop-color="#f36320"/><stop offset="0.5871" stop-color="#f25d20"/><stop offset="0.6065" stop-color="#f25721"/><stop offset="0.6258" stop-color="#f15021"/><stop offset="0.6323" stop-color="#f14e21"/><stop offset="0.6452" stop-color="#f04422"/><stop offset="0.6645" stop-color="#ef3523"/><stop offset="0.6839" stop-color="#ee2623"/><stop offset="0.6968" stop-color="#ed1c24"/><stop offset="0.7032" stop-color="#ed1c24"/><stop offset="0.7226" stop-color="#ed1c24"/><stop offset="0.7419" stop-color="#ed1c24"/><stop offset="0.7613" stop-color="#ed1c24"/><stop offset="0.7806" stop-color="#ed1c24"/><stop offset="0.8" stop-color="#ed1c24"/><stop offset="1" stop-color="#ed1c24"/></linearGradient><linearGradient id="nv1" gradientUnits="userSpaceOnUse" x1="0" y1="0" x2="155" y2="0"><stop offset="0" stop-color="#1f52a4"/><stop offset="0.2581" stop-color="#1f52a4"/><stop offset="0.2645" stop-color="#1e59ac"/><stop offset="0.2774" stop-color="#1d5baf"/><stop offset="0.2903" stop-color="#1c65b6"/><stop offset="0.2968" stop-color="#1a70bf"/><stop offset="0.3161" stop-color="#1593d8"/><stop offset="0.3245" stop-color="#13a3e3"/><stop offset="0.3355" stop-color="#1cafb0"/><stop offset="0.3484" stop-color="#29b25f"/><stop offset="0.3548" stop-color="#2cb34a"/><stop offset="0.3742" stop-color="#31b44a"/><stop offset="0.3935" stop-color="#37b44a"/><stop offset="0.4103" stop-color="#3bb54a"/><stop offset="0.4129" stop-color="#3cb54a"/><stop offset="0.4323" stop-color="#5cbc45"/><stop offset="0.4516" stop-color="#a5ce37"/><stop offset="0.4613" stop-color="#c2d925"/><stop offset="0.471" stop-color="#dee414"/><stop offset="0.4903" stop-color="#fddc06"/><stop offset="0.4935" stop-color="#fcd409"/><stop offset="0.5097" stop-color="#fccc0c"/><stop offset="0.529" stop-color="#fbc30e"/><stop offset="0.5484" stop-color="#fab911"/><stop offset="0.5677" stop-color="#fab513"/><stop offset="0.5871" stop-color="#fab114"/><stop offset="0.6065" stop-color="#f9ad15"/><stop offset="0.6258" stop-color="#f9a916"/><stop offset="0.6323" stop-color="#f9a817"/><stop offset="0.6452" stop-color="#f8a119"/><stop offset="0.6645" stop-color="#f7981c"/><stop offset="0.6839" stop-color="#f68c1d"/><stop offset="0.6968" stop-color="#f6831e"/><stop offset="0.7032" stop-color="#f5811e"/><stop offset="0.7226" stop-color="#f57b1e"/><stop offset="0.7419" stop-color="#f4761f"/><stop offset="0.7613" stop-color="#f4701f"/><stop offset="0.7806" stop-color="#f46a1f"/><stop offset="0.8" stop-color="#f36520"/><stop offset="1" stop-color="#ee2c23"/></linearGradient><linearGradient id="nv2" gradientUnits="userSpaceOnUse" x1="0" y1="0" x2="155" y2="0"><stop offset="0" stop-color="#1f52a4"/><stop offset="0.2581" stop-color="#1f52a4"/><stop offset="0.2645" stop-color="#1e58ab"/><stop offset="0.2774" stop-color="#1d5aad"/><stop offset="0.2903" stop-color="#1d5cb0"/><stop offset="0.2968" stop-color="#1c64b6"/><stop offset="0.3161" stop-color="#1882cc"/><stop offset="0.3245" stop-color="#168fd5"/><stop offset="0.3355" stop-color="#17aecb"/><stop offset="0.3484" stop-color="#22b185"/><stop offset="0.3548" stop-color="#26b271"/><stop offset="0.3742" stop-color="#2eb34a"/><stop offset="0.3935" stop-color="#32b44a"/><stop offset="0.4103" stop-color="#36b44a"/><stop offset="0.4129" stop-color="#37b44a"/><stop offset="0.4323" stop-color="#3ab54a"/><stop offset="0.4516" stop-color="#3db54a"/><stop offset="0.4613" stop-color="#3eb54a"/><stop offset="0.471" stop-color="#5cbc45"/><stop offset="0.4903" stop-color="#97ca3c"/><stop offset="0.4935" stop-color="#a0cc3a"/><stop offset="0.5097" stop-color="#a8cf35"/><stop offset="0.529" stop-color="#b0d230"/><stop offset="0.5484" stop-color="#b9d62b"/><stop offset="0.5677" stop-color="#bcd729"/><stop offset="0.5871" stop-color="#c0d826"/><stop offset="0.6065" stop-color="#c4da24"/><stop offset="0.6258" stop-color="#c7db22"/><stop offset="0.6323" stop-color="#c9dc21"/><stop offset="0.6452" stop-color="#cede1e"/><stop offset="0.6645" stop-color="#d7e118"/><stop offset="0.6839" stop-color="#e0e513"/><stop offset="0.6968" stop-color="#e5e710"/><stop offset="0.7032" stop-color="#e6e70f"/><stop offset="0.7226" stop-color="#eae90d"/><stop offset="0.7419" stop-color="#edea0b"/><stop offset="0.7613" stop-color="#f1eb09"/><stop offset="0.7806" stop-color="#f4ed07"/><stop offset="0.8" stop-color="#f8ee05"/><stop offset="1" stop-color="#fdd708"/></linearGradient><linearGradient id="nv3" gradientUnits="userSpaceOnUse" x1="0" y1="0" x2="155" y2="0"><stop offset="0" stop-color="#1f52a4"/><stop offset="0.2581" stop-color="#1f52a4"/><stop offset="0.2645" stop-color="#1e56a9"/><stop offset="0.2774" stop-color="#1e58ab"/><stop offset="0.2903" stop-color="#1d5aad"/><stop offset="0.2968" stop-color="#1d5bae"/><stop offset="0.3161" stop-color="#1b6abb"/><stop offset="0.3245" stop-color="#1a75c2"/><stop offset="0.3355" stop-color="#13a7e6"/><stop offset="0.3484" stop-color="#1aafbb"/><stop offset="0.3548" stop-color="#1cafab"/><stop offset="0.3742" stop-color="#24b17a"/><stop offset="0.3935" stop-color="#2cb34a"/><stop offset="0.4103" stop-color="#2fb34a"/><stop offset="0.4129" stop-color="#2fb34a"/><stop offset="0.4323" stop-color="#32b44a"/><stop offset="0.4516" stop-color="#34b44a"/><stop offset="0.4613" stop-color="#35b44a"/><stop offset="0.471" stop-color="#36b44a"/><stop offset="0.4903" stop-color="#38b44a"/><stop offset="0.4935" stop-color="#39b44a"/><stop offset="0.5097" stop-color="#39b44a"/><stop offset="0.529" stop-color="#39b44a"/><stop offset="0.5484" stop-color="#3ab54a"/><stop offset="0.5677" stop-color="#3ab54a"/><stop offset="0.5871" stop-color="#3ab54a"/><stop offset="0.6065" stop-color="#3ab54a"/><stop offset="0.6258" stop-color="#3ab54a"/><stop offset="0.6323" stop-color="#3ab54a"/><stop offset="0.6452" stop-color="#3bb54a"/><stop offset="0.6645" stop-color="#3bb54a"/><stop offset="0.6839" stop-color="#3bb54a"/><stop offset="0.6968" stop-color="#3cb54a"/><stop offset="0.7032" stop-color="#3cb54a"/><stop offset="0.7226" stop-color="#3cb54a"/><stop offset="0.7419" stop-color="#3cb54a"/><stop offset="0.7613" stop-color="#3cb54a"/><stop offset="0.7806" stop-color="#3cb54a"/><stop offset="0.8" stop-color="#3cb54a"/><stop offset="1" stop-color="#3eb54a"/></linearGradient><linearGradient id="np" gradientUnits="userSpaceOnUse" x1="0" y1="0" x2="155" y2="0"><stop offset="0" stop-color="#ed1c24"/><stop offset="0.2581" stop-color="#ed1c24"/><stop offset="0.2774" stop-color="#ed1c24"/><stop offset="0.2903" stop-color="#ed1c24"/><stop offset="0.2968" stop-color="#ed1c24"/><stop offset="0.3129" stop-color="#ed1c24"/><stop offset="0.3161" stop-color="#ef3722"/><stop offset="0.3271" stop-color="#f7941d"/><stop offset="0.3355" stop-color="#fbc40e"/><stop offset="0.3432" stop-color="#fff100"/><stop offset="0.3548" stop-color="#b5d42d"/><stop offset="0.3581" stop-color="#a0cc3a"/><stop offset="0.3677" stop-color="#3eb54a"/><stop offset="0.3742" stop-color="#3ab54a"/><stop offset="0.3935" stop-color="#2eb34a"/><stop offset="0.3968" stop-color="#2cb34a"/><stop offset="0.4129" stop-color="#1eb0a3"/><stop offset="0.4258" stop-color="#12adeb"/><stop offset="0.4323" stop-color="#14a1e2"/><stop offset="0.4516" stop-color="#187dc8"/><stop offset="0.4619" stop-color="#1b6abb"/><stop offset="0.471" stop-color="#1c65b6"/><stop offset="0.4903" stop-color="#1d5baf"/><stop offset="0.5097" stop-color="#1d5aad"/><stop offset="0.529" stop-color="#1e58ab"/><stop offset="0.5484" stop-color="#1e57ab"/><stop offset="0.5677" stop-color="#1e57aa"/><stop offset="0.5871" stop-color="#1e57aa"/><stop offset="0.6065" stop-color="#1e57aa"/><stop offset="0.6258" stop-color="#1e57a9"/><stop offset="0.6452" stop-color="#1e56a9"/><stop offset="0.6645" stop-color="#1e56a9"/><stop offset="0.6839" stop-color="#1e56a9"/><stop offset="0.7032" stop-color="#1e56a8"/><stop offset="0.7226" stop-color="#1e55a8"/><stop offset="0.7419" stop-color="#1e55a8"/><stop offset="0.7613" stop-color="#1e55a7"/><stop offset="0.7806" stop-color="#1e55a7"/><stop offset="0.8" stop-color="#1f54a7"/><stop offset="1" stop-color="#1f52a4"/></linearGradient><clipPath id="nz"><path d="M0,54 L0.0,33.2 L14.0,33.2 L19.0,33.4 L23.0,33.6 L27.0,34.1 L31.3,35.0 L37.0,37.0 L42.8,39.6 L48.6,43.1 L53.2,45.0 L55.0,45.5 L56.7,45.8 L58.5,45.8 L60.0,45.5 L155.0,20.2 L155,54 Z"/></clipPath><linearGradient id="cb"><stop offset="0" stop-color="#1f52a4"/><stop offset="0.07" stop-color="#1d5cb0"/><stop offset="0.154" stop-color="#12adeb"/><stop offset="0.336" stop-color="#2cb34a"/><stop offset="0.62" stop-color="#3eb54a"/><stop offset="0.69" stop-color="#a0cc3a"/><stop offset="0.775" stop-color="#fff100"/><stop offset="0.863" stop-color="#f7941d"/><stop offset="0.94" stop-color="#ed1c24"/><stop offset="1" stop-color="#ed1c24"/></linearGradient><linearGradient id="nvt" gradientUnits="userSpaceOnUse" x1="0" y1="54" x2="69.44" y2="131.08"><stop offset="0" stop-color="#1f52a4"/><stop offset="0.2581" stop-color="#1f52a4"/><stop offset="0.2645" stop-color="#1e59ad"/><stop offset="0.2774" stop-color="#1d5cb0"/><stop offset="0.2903" stop-color="#1b6abb"/><stop offset="0.2968" stop-color="#1977c4"/><stop offset="0.3161" stop-color="#149ddf"/><stop offset="0.3245" stop-color="#12adeb"/><stop offset="0.3355" stop-color="#1eb0a1"/><stop offset="0.3484" stop-color="#2cb34a"/><stop offset="0.3548" stop-color="#2eb34a"/><stop offset="0.3742" stop-color="#34b44a"/><stop offset="0.3935" stop-color="#39b44a"/><stop offset="0.4103" stop-color="#3eb54a"/><stop offset="0.4129" stop-color="#4ab848"/><stop offset="0.4323" stop-color="#a0cc3a"/><stop offset="0.4516" stop-color="#dfe513"/><stop offset="0.4613" stop-color="#fff100"/><stop offset="0.471" stop-color="#fdd509"/><stop offset="0.4903" stop-color="#f89d1a"/><stop offset="0.4935" stop-color="#f7941d"/><stop offset="0.5097" stop-color="#f6881e"/><stop offset="0.529" stop-color="#f5791f"/><stop offset="0.5484" stop-color="#f36a1f"/><stop offset="0.5677" stop-color="#f36320"/><stop offset="0.5871" stop-color="#f25d20"/><stop offset="0.6065" stop-color="#f25721"/><stop offset="0.6258" stop-color="#f15021"/><stop offset="0.6323" stop-color="#f14e21"/><stop offset="0.6452" stop-color="#f04422"/><stop offset="0.6645" stop-color="#ef3523"/><stop offset="0.6839" stop-color="#ee2623"/><stop offset="0.6968" stop-color="#ed1c24"/><stop offset="0.7032" stop-color="#ed1c24"/><stop offset="0.7226" stop-color="#ed1c24"/><stop offset="0.7419" stop-color="#ed1c24"/><stop offset="0.7613" stop-color="#ed1c24"/><stop offset="0.7806" stop-color="#ed1c24"/><stop offset="0.8" stop-color="#ed1c24"/><stop offset="1" stop-color="#ed1c24"/></linearGradient><linearGradient id="mkg" gradientUnits="userSpaceOnUse" x1="70" y1="0" x2="92" y2="0"><stop offset="0" stop-color="#000"/><stop offset="1" stop-color="#fff"/></linearGradient><mask id="mk" maskUnits="userSpaceOnUse" x="0" y="0" width="155" height="60"><rect x="0" y="0" width="155" height="60" fill="url(#mkg)"/></mask><symbol id="nozv" viewBox="0 0 155 60" preserveAspectRatio="none"><g clip-path="url(#nz)"><rect x="0" y="0" width="155" height="60" fill="url(#nv)"/><rect x="0" y="0" width="155" height="60" fill="url(#nvt)" mask="url(#mk)"/><path d="M58,46 L60,45.5 L155,20.2" stroke="url(#nv1)" stroke-width="7" fill="none"/><path d="M58,46 L60,45.5 L155,20.2" stroke="url(#nv2)" stroke-width="3.6" fill="none"/><path d="M58,46 L60,45.5 L155,20.2" stroke="url(#nv3)" stroke-width="1.4" fill="none"/></g></symbol><symbol id="nozp" viewBox="0 0 155 60" preserveAspectRatio="none"><g clip-path="url(#nz)"><rect x="0" y="0" width="155" height="60" fill="url(#np)"/></g></symbol><radialGradient id="tp"><stop offset="0" stop-color="#1ab0d8"/><stop offset=".55" stop-color="#27b3a0"/><stop offset="1" stop-color="#38b449" stop-opacity="0"/></radialGradient><clipPath id="c3e"><rect x="365" y="351.3" width="155" height="77"/></clipPath></defs><use href="#nozv" x="45.85" y="0" width="154.65" height="60"/><use href="#fv" x="45.85" y="62" width="154.65" height="77"/><use href="#fv" x="45.85" y="149.7" width="154.65" height="76.6"/><use href="#fv" x="45.85" y="237.2" width="154.65" height="76.7"/><rect x="46.3" y="351.3" width="154.8" height="77" fill="#38b449"/><rect x="46.3" y="436.7" width="154.8" height="77.1" fill="#38b449"/><use href="#nozv" x="204" y="0" width="154.9" height="60"/><use href="#fv" x="204" y="62" width="154.9" height="77"/><use href="#fv" x="204" y="149.7" width="154.9" height="76.6"/><use href="#fv" x="204" y="237.2" width="154.9" height="76.7"/><rect x="205.3" y="351.3" width="154.5" height="77" fill="#38b449"/><rect x="205.3" y="436.7" width="154.5" height="77.1" fill="#38b449"/><use href="#nozp" x="363.3" y="0" width="154.5" height="60"/><use href="#fp" x="363.3" y="62" width="154.5" height="77"/><use href="#fp" x="363.3" y="149.7" width="154.5" height="76.6"/><use href="#fp" x="363.3" y="237.2" width="154.5" height="76.7"/><rect x="365" y="351.3" width="155" height="77" fill="#38b449"/><rect x="365" y="436.7" width="155" height="77.1" fill="#38b449"/><polygon points="201.1,351.3 176.0,351.3 175.5,352.4 177.3,353.3 176.6,354.4 177.1,355.3 176.8,356.4 175.7,357.3 175.7,358.4 175.8,359.3 175.7,360.4 176.1,361.3 175.4,362.4 177.4,363.3 177.9,364.4 176.6,365.3 176.1,366.4 178.3,367.3 179.1,368.4 178.4,369.3 178.3,370.4 180.0,371.3 179.3,372.4 179.9,373.3 179.6,374.4 177.9,375.3 177.3,376.4 178.7,377.3 179.2,378.4 178.6,379.3 178.7,380.4 180.4,381.3 180.2,382.4 180.4,383.3 179.7,384.4 179.1,385.3 178.6,386.4 181.5,387.3 181.4,388.4 180.9,389.3 181.0,390.4 181.9,391.3 181.6,392.4 183.5,393.3 183.9,394.4 182.3,395.3 182.5,396.4 183.8,397.3 184.4,398.4 185.0,399.3 184.7,400.4 186.3,401.3 185.7,402.4 185.8,403.3 186.2,404.4 186.6,405.3 186.5,406.4 187.8,407.3 188.1,408.4 191.8,409.3 191.9,410.4 194.5,411.3 194.2,412.4 196.7,413.3 196.8,414.4 199.0,415.3 199.0,416.4 201.1,417.0" fill="#7fc341"/><polygon points="201.1,351.3 190.7,351.3 191.4,352.4 190.2,353.3 190.5,354.4 189.6,355.3 189.9,356.4 191.1,357.3 191.8,358.4 191.7,359.3 191.3,360.4 191.0,361.3 191.3,362.4 190.6,363.3 190.5,364.4 191.2,365.3 190.6,366.4 191.4,367.3 191.8,368.4 191.9,369.3 191.5,370.4 192.8,371.3 193.4,372.4 192.6,373.3 192.5,374.4 193.9,375.3 194.5,376.4 194.8,377.3 195.4,378.4 194.2,379.3 194.0,380.4 194.8,381.3 195.5,382.4 196.5,383.3 196.0,384.4 195.5,385.3 195.0,386.4 196.1,387.3 196.1,388.4 197.3,389.3 196.9,390.4 196.6,391.3 196.5,392.4 197.9,393.3 198.0,394.4 199.6,395.3 199.9,396.4 199.3,397.3 199.4,398.4 200.1,399.3 199.4,400.4 201.1,401.3 201.1,402.4 201.1,403.3 201.1,404.0 201.1,404.0" fill="#e3e01f"/><polygon points="359.8,351.3 343.5,351.3 343.3,352.4 342.7,353.3 342.9,354.4 342.8,355.3 342.1,356.4 343.4,357.3 342.9,358.4 344.0,359.3 343.3,360.4 343.1,361.3 342.5,362.4 343.6,363.3 343.4,364.4 343.5,365.3 344.1,366.4 345.6,367.3 345.0,368.4 344.7,369.3 344.5,370.4 345.4,371.3 344.7,372.4 347.2,373.3 348.0,374.4 346.3,375.3 346.2,376.4 345.3,377.3 344.7,378.4 346.5,379.3 346.1,380.4 348.3,381.3 347.8,382.4 346.0,383.3 346.7,384.4 348.0,385.3 347.4,386.4 348.6,387.3 347.9,388.4 349.2,389.3 350.0,390.4 350.9,391.3 351.2,392.4 349.6,393.3 349.4,394.4 349.9,395.3 350.3,396.4 351.7,397.3 352.1,398.4 352.2,399.3 351.8,400.4 355.2,401.3 356.0,402.4 356.8,403.3 357.3,404.4 358.1,405.3 358.5,406.4 357.7,407.3 357.7,408.4 359.8,409.0" fill="#7fc341"/><polygon points="359.8,351.3 352.6,351.3 351.8,352.4 352.3,353.3 352.0,354.4 353.0,355.3 353.3,356.4 354.4,357.3 354.3,358.4 354.7,359.3 355.4,360.4 355.0,361.3 354.8,362.4 354.1,363.3 353.7,364.4 354.4,365.3 353.9,366.4 355.8,367.3 356.4,368.4 356.8,369.3 356.7,370.4 357.1,371.3 357.6,372.4 356.9,373.3 357.2,374.4 358.9,375.3 359.3,376.4 359.3,377.3 359.3,378.4 359.1,379.3 359.5,380.0 359.8,380.0" fill="#96c93d"/><polygon points="189.1,385.3 190.2,385.3 188.5,390.2 187.4,390.2" fill="#38b449"/><polygon points="190.6,386.9 191.7,386.9 189.8,392.3 188.7,392.3" fill="#38b449"/><polygon points="187.0,396.2 188.1,396.2 187.0,399.2 185.9,399.2" fill="#38b449"/><polygon points="185.9,398.7 186.8,398.7 184.9,404.1 184.0,404.1" fill="#38b449"/><polygon points="182.5,387.4 183.8,387.4 181.7,393.4 180.4,393.4" fill="#38b449"/><polygon points="196.5,408.0 197.5,408.0 196.4,411.1 195.4,411.1" fill="#38b449"/><polygon points="185.6,395.9 186.7,395.9 184.6,401.8 183.6,401.8" fill="#38b449"/><polygon points="190.4,385.0 191.9,385.0 190.7,388.3 189.3,388.3" fill="#38b449"/><polygon points="190.0,394.5 191.1,394.5 189.7,398.5 188.6,398.5" fill="#38b449"/><polygon points="182.0,386.0 183.0,386.0 181.0,391.6 180.0,391.6" fill="#38b449"/><polygon points="190.7,405.0 192.1,405.0 190.1,410.9 188.6,410.9" fill="#38b449"/><polygon points="196.1,404.2 197.5,404.2 195.8,408.9 194.5,408.9" fill="#38b449"/><polygon points="186.5,383.9 187.5,383.9 185.6,389.4 184.6,389.4" fill="#38b449"/><polygon points="199.1,409.5 200.2,409.5 198.7,413.8 197.6,413.8" fill="#38b449"/><polygon points="189.2,372.8 190.2,372.8 188.8,376.8 187.8,376.8" fill="#e3e01f" fill-opacity="0.9"/><polygon points="184.7,353.2 186.0,353.2 184.8,356.7 183.5,356.7" fill="#e3e01f" fill-opacity="0.9"/><polygon points="190.1,374.8 191.3,374.8 190.2,377.9 189.1,377.9" fill="#e3e01f" fill-opacity="0.9"/><polygon points="188.4,362.2 189.5,362.2 188.4,365.3 187.3,365.3" fill="#e3e01f" fill-opacity="0.9"/><polygon points="186.0,360.3 187.2,360.3 186.3,363.0 185.0,363.0" fill="#e3e01f" fill-opacity="0.9"/><polygon points="189.3,367.9 190.2,367.9 189.3,370.6 188.4,370.6" fill="#e3e01f" fill-opacity="0.9"/><polygon points="188.5,355.0 189.5,355.0 188.3,358.6 187.3,358.6" fill="#e3e01f" fill-opacity="0.9"/><polygon points="193.0,383.4 194.3,383.4 193.0,387.2 191.7,387.2" fill="#e3e01f" fill-opacity="0.9"/><polygon points="191.8,370.7 192.9,370.7 191.6,374.6 190.5,374.6" fill="#e3e01f" fill-opacity="0.9"/><polygon points="194.4,392.6 195.3,392.6 194.4,395.4 193.4,395.4" fill="#e3e01f" fill-opacity="0.9"/><polygon points="355.8,401.3 357.1,401.3 356.0,404.4 354.7,404.4" fill="#38b449"/><polygon points="355.9,398.2 356.7,398.2 355.1,402.9 354.2,402.9" fill="#38b449"/><polygon points="350.8,382.7 351.7,382.7 350.3,386.6 349.4,386.6" fill="#38b449"/><polygon points="350.3,377.1 351.7,377.1 350.1,381.9 348.7,381.9" fill="#38b449"/><polygon points="355.7,397.4 357.0,397.4 355.8,400.9 354.4,400.9" fill="#38b449"/><polygon points="356.4,390.8 357.3,390.8 356.3,393.8 355.3,393.8" fill="#38b449"/><polygon points="358.1,400.1 359.2,400.1 357.5,404.9 356.4,404.9" fill="#38b449"/><polygon points="354.3,387.8 355.3,387.8 353.6,392.5 352.7,392.5" fill="#38b449"/><rect x="99.5" y="351.3" width="1" height="2.7" fill="#cfdc29"/><rect x="102.1" y="351.3" width="1" height="3.6" fill="#cfdc29"/><rect x="104.7" y="351.3" width="1" height="3.1" fill="#cfdc29"/><rect x="107.3" y="351.3" width="1" height="3.8" fill="#cfdc29"/><rect x="109.9" y="351.3" width="1" height="3.9" fill="#cfdc29"/><rect x="112.5" y="351.3" width="1" height="2.2" fill="#cfdc29"/><rect x="115.1" y="351.3" width="1" height="2.0" fill="#cfdc29"/><rect x="117.7" y="351.3" width="1" height="4.5" fill="#cfdc29"/><rect x="120.3" y="351.3" width="1" height="2.8" fill="#cfdc29"/><rect x="260.0" y="351.3" width="1" height="2.7" fill="#cfdc29"/><rect x="263.1" y="351.3" width="1" height="5.0" fill="#cfdc29"/><rect x="266.2" y="351.3" width="1" height="3.4" fill="#cfdc29"/><rect x="269.3" y="351.3" width="1" height="4.5" fill="#cfdc29"/><rect x="272.4" y="351.3" width="1" height="3.4" fill="#cfdc29"/><rect x="275.5" y="351.3" width="1" height="3.9" fill="#cfdc29"/><rect x="278.6" y="351.3" width="1" height="2.5" fill="#cfdc29"/><rect x="281.7" y="351.3" width="1" height="3.9" fill="#cfdc29"/><rect x="284.8" y="351.3" width="1" height="4.6" fill="#cfdc29"/><rect x="287.9" y="351.3" width="1" height="3.6" fill="#cfdc29"/><rect x="291.0" y="351.3" width="1" height="4.2" fill="#cfdc29"/><rect x="294.1" y="351.3" width="1" height="4.0" fill="#cfdc29"/><rect x="297.2" y="351.3" width="1" height="2.2" fill="#cfdc29"/><rect x="300.3" y="351.3" width="1" height="4.3" fill="#cfdc29"/><g clip-path="url(#c3e)"><ellipse cx="514" cy="375" rx="11" ry="24" fill="url(#tp)"/><ellipse cx="521" cy="354" rx="14" ry="9" fill="url(#tp)" opacity=".8"/><ellipse cx="441" cy="352" rx="11" ry="5" fill="url(#tp)" opacity=".6"/></g><rect x="115.1" y="478.8" width="1.7" height="1.3" fill="#b5d334" opacity="0.83"/><rect x="75.2" y="497.1" width="1.3" height="1.4" fill="#6cc04a" opacity="0.49"/><rect x="92.4" y="443.8" width="1.6" height="1.5" fill="#6cc04a" opacity="0.72"/><rect x="106.5" y="470.8" width="1.5" height="1.5" fill="#b5d334" opacity="0.46"/><rect x="126.6" y="441.4" width="1.0" height="1.0" fill="#6cc04a" opacity="0.80"/><rect x="95.9" y="481.1" width="1.0" height="1.0" fill="#8cc63f" opacity="0.67"/><rect x="147.0" y="471.2" width="1.1" height="1.8" fill="#6cc04a" opacity="0.77"/><rect x="94.2" y="454.2" width="1.1" height="0.9" fill="#6cc04a" opacity="0.63"/><rect x="175.0" y="465.9" width="1.8" height="1.6" fill="#6cc04a" opacity="0.55"/><rect x="187.2" y="440.9" width="1.2" height="1.5" fill="#8cc63f" opacity="0.48"/><rect x="142.0" y="495.2" width="1.1" height="0.9" fill="#8cc63f" opacity="0.46"/><rect x="108.6" y="505.9" width="0.9" height="1.5" fill="#6cc04a" opacity="0.48"/><rect x="167.4" y="450.3" width="1.4" height="1.2" fill="#6cc04a" opacity="0.89"/><rect x="163.3" y="468.3" width="1.2" height="1.2" fill="#6cc04a" opacity="0.45"/><rect x="177.7" y="509.8" width="1.4" height="1.8" fill="#6cc04a" opacity="0.54"/><rect x="106.2" y="500.8" width="1.4" height="0.9" fill="#6cc04a" opacity="0.55"/><rect x="244.6" y="494.7" width="1.1" height="1.1" fill="#6cc04a" opacity="0.48"/><rect x="237.0" y="484.6" width="0.8" height="1.2" fill="#b5d334" opacity="0.65"/><rect x="351.1" y="473.1" width="1.4" height="1.7" fill="#6cc04a" opacity="0.73"/><rect x="252.5" y="454.1" width="1.4" height="1.5" fill="#6cc04a" opacity="0.78"/><rect x="348.2" y="451.7" width="1.8" height="1.7" fill="#b5d334" opacity="0.49"/><rect x="212.5" y="445.1" width="1.3" height="1.1" fill="#b5d334" opacity="0.77"/><rect x="244.4" y="498.5" width="1.4" height="1.1" fill="#6cc04a" opacity="0.87"/><rect x="353.8" y="446.4" width="1.3" height="1.5" fill="#b5d334" opacity="0.73"/><rect x="247.9" y="505.5" width="1.0" height="0.8" fill="#8cc63f" opacity="0.64"/><rect x="243.2" y="440.5" width="1.1" height="1.3" fill="#6cc04a" opacity="0.49"/><rect x="226.3" y="470.6" width="1.1" height="1.5" fill="#b5d334" opacity="0.71"/><rect x="226.6" y="439.6" width="0.8" height="1.7" fill="#b5d334" opacity="0.59"/><rect x="210.4" y="481.7" width="0.9" height="0.9" fill="#8cc63f" opacity="0.59"/><rect x="357.2" y="442.6" width="1.3" height="1.5" fill="#b5d334" opacity="0.78"/><rect x="225.0" y="509.0" width="1.1" height="0.9" fill="#8cc63f" opacity="0.86"/><rect x="337.7" y="468.2" width="1.6" height="1.7" fill="#b5d334" opacity="0.46"/><rect x="465.7" y="465.3" width="0.8" height="0.9" fill="#6cc04a" opacity="0.74"/><rect x="516.0" y="502.7" width="1.5" height="1.2" fill="#b5d334" opacity="0.76"/><rect x="434.6" y="471.6" width="1.3" height="1.3" fill="#b5d334" opacity="0.46"/><rect x="456.4" y="472.9" width="1.0" height="1.5" fill="#8cc63f" opacity="0.80"/><rect x="465.3" y="473.3" width="1.7" height="1.2" fill="#6cc04a" opacity="0.76"/><rect x="395.8" y="449.7" width="1.7" height="1.5" fill="#8cc63f" opacity="0.67"/><rect x="401.7" y="467.2" width="1.1" height="1.4" fill="#6cc04a" opacity="0.85"/><rect x="423.4" y="480.6" width="1.1" height="0.9" fill="#8cc63f" opacity="0.61"/><rect x="501.1" y="440.0" width="0.9" height="1.8" fill="#6cc04a" opacity="0.50"/><rect x="436.6" y="506.2" width="1.6" height="1.2" fill="#b5d334" opacity="0.67"/><rect x="412.9" y="499.7" width="1.8" height="1.3" fill="#6cc04a" opacity="0.82"/><rect x="407.3" y="482.4" width="1.5" height="1.1" fill="#8cc63f" opacity="0.59"/><rect x="485.3" y="438.4" width="0.9" height="1.3" fill="#6cc04a" opacity="0.80"/><rect x="405.5" y="495.2" width="1.6" height="1.8" fill="#6cc04a" opacity="0.65"/><rect x="460.8" y="485.9" width="1.6" height="1.8" fill="#b5d334" opacity="0.54"/><rect x="490.2" y="456.1" width="1.5" height="1.6" fill="#b5d334" opacity="0.77"/><rect x="69.2" y="372.2" width="1.1" height="1.5" fill="#b5d334" opacity="0.68"/><rect x="173.6" y="363.8" width="1.6" height="1.5" fill="#6cc04a" opacity="0.49"/><rect x="165.4" y="405.5" width="0.9" height="1.3" fill="#b5d334" opacity="0.85"/><rect x="47.2" y="392.7" width="1.5" height="1.3" fill="#8cc63f" opacity="0.66"/><rect x="129.5" y="367.2" width="1.5" height="1.6" fill="#b5d334" opacity="0.87"/><rect x="62.1" y="369.9" width="1.2" height="0.9" fill="#8cc63f" opacity="0.69"/><rect x="147.3" y="375.7" width="1.7" height="1.7" fill="#8cc63f" opacity="0.68"/><rect x="51.0" y="377.3" width="1.2" height="1.1" fill="#6cc04a" opacity="0.55"/><rect x="323.0" y="383.7" width="0.8" height="1.3" fill="#b5d334" opacity="0.80"/><rect x="224.4" y="363.0" width="1.3" height="1.5" fill="#b5d334" opacity="0.76"/><rect x="333.6" y="388.5" width="1.7" height="0.9" fill="#6cc04a" opacity="0.65"/><rect x="281.1" y="413.5" width="1.4" height="1.0" fill="#b5d334" opacity="0.83"/><rect x="281.3" y="375.1" width="1.2" height="1.6" fill="#b5d334" opacity="0.54"/><rect x="320.7" y="423.7" width="1.3" height="1.4" fill="#6cc04a" opacity="0.63"/><rect x="220.8" y="352.4" width="1.2" height="1.3" fill="#6cc04a" opacity="0.68"/><rect x="259.7" y="411.3" width="1.4" height="1.3" fill="#b5d334" opacity="0.53"/><rect x="490.7" y="386.0" width="1.7" height="1.6" fill="#8cc63f" opacity="0.57"/><rect x="428.9" y="361.4" width="1.2" height="1.6" fill="#8cc63f" opacity="0.69"/><rect x="379.7" y="383.0" width="0.8" height="1.1" fill="#b5d334" opacity="0.80"/><rect x="368.1" y="366.4" width="1.0" height="1.5" fill="#8cc63f" opacity="0.78"/><rect x="398.0" y="388.9" width="1.3" height="1.4" fill="#b5d334" opacity="0.73"/><rect x="461.9" y="403.9" width="1.7" height="0.8" fill="#b5d334" opacity="0.64"/><rect x="436.5" y="363.8" width="1.0" height="1.4" fill="#b5d334" opacity="0.55"/><rect x="394.2" y="392.2" width="1.4" height="0.9" fill="#b5d334" opacity="0.73"/><rect x="411.9" y="365.4" width="1.4" height="1.7" fill="#6cc04a" opacity="0.55"/><rect x="499.8" y="417.7" width="0.9" height="1.0" fill="#b5d334" opacity="0.49"/><rect x="417.4" y="384.2" width="1.7" height="1.3" fill="#b5d334" opacity="0.51"/><rect x="419.4" y="402.7" width="0.8" height="1.0" fill="#b5d334" opacity="0.61"/><rect x="475.8" y="378.7" width="1.5" height="1.4" fill="#8cc63f" opacity="0.68"/><rect x="457.6" y="366.0" width="0.9" height="0.9" fill="#6cc04a" opacity="0.79"/><rect x="48.2" y="320" width="148.1" height="10.8" fill="url(#cb)"/><rect x="208.8" y="320" width="148.2" height="10.8" fill="url(#cb)"/><rect x="369.3" y="320" width="143.4" height="10.8" fill="url(#cb)"/><rect x="156" y="320" width="0.6" height="10.8" fill="#333" opacity=".45"/><rect x="52.70" y="519" width="10.10" height="9.9" fill="#2352a7"/><rect x="62.50" y="519" width="9.80" height="9.9" fill="#1f63b8"/><rect x="72.00" y="519" width="12.60" height="9.9" fill="#12adeb"/><rect x="84.30" y="519" width="12.50" height="9.9" fill="#1bb0b8"/><rect x="96.50" y="519" width="38.80" height="9.9" fill="#38b449"/><rect x="135.00" y="519" width="13.00" height="9.9" fill="#8cc63f"/><rect x="147.70" y="519" width="12.90" height="9.9" fill="#e3e01f"/><rect x="160.30" y="519" width="13.00" height="9.9" fill="#fbb017"/><rect x="173.00" y="519" width="13.30" height="9.9" fill="#f15a29"/><rect x="186.00" y="519" width="6.30" height="9.9" fill="#ed1c24"/><rect x="212.70" y="519" width="10.10" height="9.9" fill="#2352a7"/><rect x="222.50" y="519" width="9.80" height="9.9" fill="#1f63b8"/><rect x="232.00" y="519" width="12.60" height="9.9" fill="#12adeb"/><rect x="244.30" y="519" width="12.50" height="9.9" fill="#1bb0b8"/><rect x="256.50" y="519" width="38.80" height="9.9" fill="#38b449"/><rect x="295.00" y="519" width="13.00" height="9.9" fill="#8cc63f"/><rect x="307.70" y="519" width="12.90" height="9.9" fill="#e3e01f"/><rect x="320.30" y="519" width="13.00" height="9.9" fill="#fbb017"/><rect x="333.00" y="519" width="13.30" height="9.9" fill="#f15a29"/><rect x="346.00" y="519" width="6.30" height="9.9" fill="#ed1c24"/><rect x="371.50" y="519" width="10.14" height="9.9" fill="#2352a7"/><rect x="381.34" y="519" width="9.84" height="9.9" fill="#1f63b8"/><rect x="390.88" y="519" width="12.65" height="9.9" fill="#12adeb"/><rect x="403.24" y="519" width="12.55" height="9.9" fill="#1bb0b8"/><rect x="415.49" y="519" width="38.97" height="9.9" fill="#38b449"/><rect x="454.15" y="519" width="13.05" height="9.9" fill="#8cc63f"/><rect x="466.91" y="519" width="12.95" height="9.9" fill="#e3e01f"/><rect x="479.56" y="519" width="13.05" height="9.9" fill="#fbb017"/><rect x="492.32" y="519" width="13.36" height="9.9" fill="#f15a29"/><rect x="505.37" y="519" width="6.33" height="9.9" fill="#ed1c24"/></svg>
<div class="t h" style="left:27.9px;top:-1.4px;width:200px;text-align:center;">axial velocity</div>
<div class="t h" style="left:185.8px;top:-1.4px;width:200px;text-align:center;">velocity magnitude</div>
<div class="t h" style="left:341.9px;top:-1.4px;width:200px;text-align:center;">pressure</div>
<div class="t r" style="left:0.6px;top:34.5px;font-size:10.6px;">Target<span class="sb">ori</span></div>
<div class="t r" style="left:5.2px;top:98.6px;font-size:10.9px;">Target</div>
<div class="t r b" style="left:12px;top:190.3px;transform:scaleX(.87);">CNN</div>
<div class="t r b" style="left:11.5px;top:270.2px;transform:scaleX(.88);">ViT</div>
<div class="t e" style="left:8.3px;top:383.74px;font-size:10.1px;transform:scaleX(.92);transform-origin:0 0;"><i>E</i></div>
<div class="t s2" style="left:13.6px;top:389.22px;font-size:6.9px;">CNN</div>
<div class="t e" style="left:9.8px;top:470.74px;font-size:10.1px;transform:scaleX(.92);transform-origin:0 0;"><i>E</i></div>
<div class="t s2" style="left:15.5px;top:476.22px;font-size:6.9px;">ViT</div>
<div class="t c" style="left:38.4px;top:330.8px;width:30px;text-align:center;">50</div>
<div class="t c" style="left:198.7px;top:330.8px;width:30px;text-align:center;">50</div>
<div class="t c" style="left:61.15px;top:330.8px;width:30px;text-align:center;">150</div>
<div class="t c" style="left:221.45px;top:330.8px;width:30px;text-align:center;">150</div>
<div class="t c" style="left:83.9px;top:330.8px;width:30px;text-align:center;">250</div>
<div class="t c" style="left:244.2px;top:330.8px;width:30px;text-align:center;">250</div>
<div class="t c" style="left:106.65px;top:330.8px;width:30px;text-align:center;">350</div>
<div class="t c" style="left:266.95px;top:330.8px;width:30px;text-align:center;">350</div>
<div class="t c" style="left:129.4px;top:330.8px;width:30px;text-align:center;">450</div>
<div class="t c" style="left:289.7px;top:330.8px;width:30px;text-align:center;">450</div>
<div class="t c" style="left:152.15px;top:330.8px;width:30px;text-align:center;">550</div>
<div class="t c" style="left:312.45px;top:330.8px;width:30px;text-align:center;">550</div>
<div class="t c" style="left:174.9px;top:330.8px;width:30px;text-align:center;">650</div>
<div class="t c" style="left:335.2px;top:330.8px;width:30px;text-align:center;">650</div>
<div class="t c" style="left:358px;top:330.8px;width:30px;text-align:center;">50</div>
<div class="t c" style="left:373.28px;top:330.8px;width:30px;text-align:center;">150</div>
<div class="t c" style="left:388.56px;top:330.8px;width:30px;text-align:center;">250</div>
<div class="t c" style="left:403.84px;top:330.8px;width:30px;text-align:center;">350</div>
<div class="t c" style="left:419.12px;top:330.8px;width:30px;text-align:center;">450</div>
<div class="t c" style="left:434.4px;top:330.8px;width:30px;text-align:center;">550</div>
<div class="t c" style="left:449.68px;top:330.8px;width:30px;text-align:center;">650</div>
<div class="t c" style="left:464.96px;top:330.8px;width:30px;text-align:center;">750</div>
<div class="t c" style="left:480.24px;top:330.8px;width:30px;text-align:center;">850</div>
<div class="t c" style="left:495.52px;top:330.8px;width:30px;text-align:center;">950</div>
<div class="t d" style="left:39px;top:529.4px;width:40px;text-align:center;">-0.008</div>
<div class="t d" style="left:77.2px;top:529.4px;width:40px;text-align:center;">-0.004</div>
<div class="t d" style="left:101.5px;top:529.4px;width:40px;text-align:center;">0</div>
<div class="t d" style="left:128.7px;top:529.4px;width:40px;text-align:center;">0.004</div>
<div class="t d" style="left:165.4px;top:529.4px;width:40px;text-align:center;">0.008</div>
<div class="t d" style="left:199px;top:529.4px;width:40px;text-align:center;">-0.008</div>
<div class="t d" style="left:237.2px;top:529.4px;width:40px;text-align:center;">-0.004</div>
<div class="t d" style="left:261.5px;top:529.4px;width:40px;text-align:center;">0</div>
<div class="t d" style="left:288.7px;top:529.4px;width:40px;text-align:center;">0.004</div>
<div class="t d" style="left:325.4px;top:529.4px;width:40px;text-align:center;">0.008</div>
<div class="t d" style="left:357.2px;top:529.4px;width:40px;text-align:center;">-0.012</div>
<div class="t d" style="left:396.9px;top:529.4px;width:40px;text-align:center;">-0.006</div>
<div class="t d" style="left:420px;top:529.4px;width:40px;text-align:center;">0</div>
<div class="t d" style="left:446px;top:529.4px;width:40px;text-align:center;">0.006</div>
<div class="t d" style="left:484px;top:529.4px;width:40px;text-align:center;">0.012</div>
</body></html>
